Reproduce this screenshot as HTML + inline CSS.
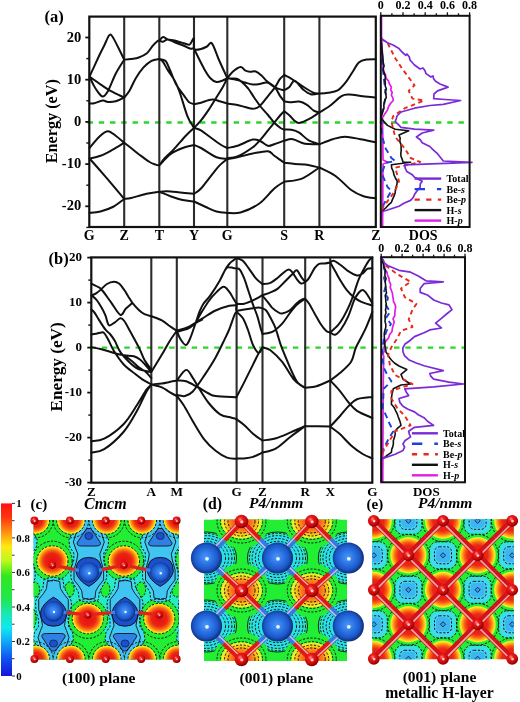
<!DOCTYPE html>
<html><head><meta charset="utf-8"><title>Band structure and ELF</title>
<style>
html,body{margin:0;padding:0;background:#fff;}
svg{display:block;font-family:"Liberation Serif","Times New Roman",serif;}
</style></head>
<body>
<svg width="520" height="702" viewBox="0 0 520 702">
<rect width="520" height="702" fill="#fff"/>

<defs>
 <radialGradient id="blobc" cx="50%" cy="50%" r="50%">
  <stop offset="0" stop-color="#e41010"/>
  <stop offset="0.5" stop-color="#ea2414"/>
  <stop offset="0.68" stop-color="#f65a12"/>
  <stop offset="0.82" stop-color="#ffa014"/>
  <stop offset="0.93" stop-color="#ffe01c"/>
  <stop offset="1" stop-color="#e0f024"/>
 </radialGradient>
 <radialGradient id="blobd" cx="50%" cy="50%" r="50%">
  <stop offset="0" stop-color="#f02818"/>
  <stop offset="0.3" stop-color="#f45418"/>
  <stop offset="0.58" stop-color="#fc8c1c"/>
  <stop offset="0.76" stop-color="#fcc81e"/>
  <stop offset="0.9" stop-color="#f0f028"/>
  <stop offset="1" stop-color="#b0f030"/>
 </radialGradient>
 <radialGradient id="blobe" cx="50%" cy="50%" r="50%">
  <stop offset="0" stop-color="#e41414"/>
  <stop offset="0.55" stop-color="#ec2616"/>
  <stop offset="0.72" stop-color="#f86014"/>
  <stop offset="0.85" stop-color="#ffae1a"/>
  <stop offset="0.95" stop-color="#f8ec20"/>
  <stop offset="1" stop-color="#c0f030"/>
 </radialGradient>
 <radialGradient id="hatom" cx="40%" cy="35%" r="60%">
  <stop offset="0" stop-color="#ff9090"/>
  <stop offset="0.3" stop-color="#ee1c1c"/>
  <stop offset="0.8" stop-color="#c40808"/>
  <stop offset="1" stop-color="#900000"/>
 </radialGradient>
 <radialGradient id="beatom" cx="48%" cy="48%" r="52%">
  <stop offset="0" stop-color="#4a98f8"/>
  <stop offset="0.45" stop-color="#2a72e4"/>
  <stop offset="0.75" stop-color="#1c58c8"/>
  <stop offset="0.9" stop-color="#143e98"/>
  <stop offset="1" stop-color="#0e2a74"/>
 </radialGradient>
 <linearGradient id="cbar" x1="0" y1="0" x2="0" y2="1">
  <stop offset="0" stop-color="#ff1010"/>
  <stop offset="0.08" stop-color="#ff3410"/>
  <stop offset="0.17" stop-color="#ff9410"/>
  <stop offset="0.25" stop-color="#ffea10"/>
  <stop offset="0.33" stop-color="#c0f81a"/>
  <stop offset="0.42" stop-color="#30e81e"/>
  <stop offset="0.55" stop-color="#1ee84a"/>
  <stop offset="0.64" stop-color="#18e8b4"/>
  <stop offset="0.72" stop-color="#10e8f0"/>
  <stop offset="0.80" stop-color="#10a8f8"/>
  <stop offset="0.90" stop-color="#1050f0"/>
  <stop offset="1" stop-color="#1414d8"/>
 </linearGradient>
 <clipPath id="clipc"><rect x="33.5" y="520" width="145.5" height="139.5"/></clipPath>
 <clipPath id="clipd"><rect x="204" y="519.5" width="143" height="141.5"/></clipPath>
 <clipPath id="clipe"><rect x="372.3" y="519.3" width="141.5" height="140"/></clipPath>
</defs>

<rect x="1" y="503.4" width="11" height="172.6" fill="url(#cbar)"/>
<line x1="12" y1="503.4" x2="15" y2="503.4" stroke="#333" stroke-width="1"/>
<line x1="12" y1="520.7" x2="14.5" y2="520.7" stroke="#333" stroke-width="1"/>
<line x1="12" y1="537.9" x2="15" y2="537.9" stroke="#333" stroke-width="1"/>
<line x1="12" y1="555.2" x2="14.5" y2="555.2" stroke="#333" stroke-width="1"/>
<line x1="12" y1="572.4" x2="15" y2="572.4" stroke="#333" stroke-width="1"/>
<line x1="12" y1="589.7" x2="14.5" y2="589.7" stroke="#333" stroke-width="1"/>
<line x1="12" y1="607.0" x2="15" y2="607.0" stroke="#333" stroke-width="1"/>
<line x1="12" y1="624.2" x2="14.5" y2="624.2" stroke="#333" stroke-width="1"/>
<line x1="12" y1="641.5" x2="15" y2="641.5" stroke="#333" stroke-width="1"/>
<line x1="12" y1="658.7" x2="14.5" y2="658.7" stroke="#333" stroke-width="1"/>
<line x1="12" y1="676.0" x2="15" y2="676.0" stroke="#333" stroke-width="1"/>
<text x="16.3" y="507.2" font-size="10.8" text-anchor="start" font-style="normal" font-weight="bold" fill="#000">1</text>
<text x="16.3" y="541.7" font-size="10.8" text-anchor="start" font-style="normal" font-weight="bold" fill="#000">0.8</text>
<text x="16.3" y="576.2" font-size="10.8" text-anchor="start" font-style="normal" font-weight="bold" fill="#000">0.6</text>
<text x="16.3" y="610.8" font-size="10.8" text-anchor="start" font-style="normal" font-weight="bold" fill="#000">0.4</text>
<text x="16.3" y="645.3" font-size="10.8" text-anchor="start" font-style="normal" font-weight="bold" fill="#000">0.2</text>
<text x="16.3" y="679.8" font-size="10.8" text-anchor="start" font-style="normal" font-weight="bold" fill="#000">0</text>
<g clip-path="url(#clipc)">
<rect x="33.5" y="520" width="145.5" height="139.5" fill="#24ecc4"/>
<rect x="33.5" y="520" width="145.5" height="28" fill="#22ee34"/>
<rect x="33.5" y="632" width="145.5" height="28" fill="#22ee34"/>
<circle cx="-19.1" cy="561" r="19.8" fill="#22ee34"/>
<circle cx="52.4" cy="561" r="19.8" fill="#22ee34"/>
<circle cx="123.9" cy="561" r="19.8" fill="#22ee34"/>
<circle cx="195.4" cy="561" r="19.8" fill="#22ee34"/>
<circle cx="16.3" cy="618.6" r="19.8" fill="#22ee34"/>
<circle cx="87.8" cy="618.6" r="19.8" fill="#22ee34"/>
<circle cx="159.3" cy="618.6" r="19.8" fill="#22ee34"/>
<ellipse cx="35" cy="589.5" rx="4.6" ry="7.5" fill="#22ee34"/>
<ellipse cx="35" cy="589.5" rx="4.6" ry="7.5" fill="none" stroke="#111" stroke-width="1" stroke-dasharray="2.2,1.6"/>
<ellipse cx="69.5" cy="589.5" rx="4.6" ry="7.5" fill="#22ee34"/>
<ellipse cx="69.5" cy="589.5" rx="4.6" ry="7.5" fill="none" stroke="#111" stroke-width="1" stroke-dasharray="2.2,1.6"/>
<ellipse cx="105.3" cy="589.5" rx="4.6" ry="7.5" fill="#22ee34"/>
<ellipse cx="105.3" cy="589.5" rx="4.6" ry="7.5" fill="none" stroke="#111" stroke-width="1" stroke-dasharray="2.2,1.6"/>
<ellipse cx="141" cy="589.5" rx="4.6" ry="7.5" fill="#22ee34"/>
<ellipse cx="141" cy="589.5" rx="4.6" ry="7.5" fill="none" stroke="#111" stroke-width="1" stroke-dasharray="2.2,1.6"/>
<ellipse cx="176.5" cy="589.5" rx="4.6" ry="7.5" fill="#22ee34"/>
<ellipse cx="176.5" cy="589.5" rx="4.6" ry="7.5" fill="none" stroke="#111" stroke-width="1" stroke-dasharray="2.2,1.6"/>
<path d="M26.3,518.0 L29.3,525.0 L33.3,532.0 L37.3,540.0 L36.3,547.0 L32.3,553.0 L32.3,560.0 L34.8,568.0 L35.3,578.0 L31.3,586.0 L27.8,592.0 L26.8,600.0 Q17.3,604.0 7.8,600.0 L6.8,592.0 L3.3,586.0 L-0.7,578.0 L-0.2,568.0 L2.3,560.0 L2.3,553.0 L-1.7,547.0 L-2.7,540.0 L1.3,532.0 L5.3,525.0 L8.3,518.0 Z" fill="#3ed8f2"/>
<path d="M26.3,518.0 L29.3,525.0 L33.3,532.0 L37.3,540.0 L36.3,547.0 L32.3,553.0 L32.3,560.0 L34.8,568.0 L35.3,578.0 L31.3,586.0 L27.8,592.0 L26.8,600.0 Q17.3,604.0 7.8,600.0 L6.8,592.0 L3.3,586.0 L-0.7,578.0 L-0.2,568.0 L2.3,560.0 L2.3,553.0 L-1.7,547.0 L-2.7,540.0 L1.3,532.0 L5.3,525.0 L8.3,518.0 Z" fill="none" stroke="#111" stroke-width="1" stroke-dasharray="2.2,1.6"/>
<path d="M23.3,518.0 L26.3,526.0 L30.3,534.0 L32.8,542.0 L30.3,549.0 L28.3,554.0 L29.3,560.0 L32.1,570.0 L32.1,580.0 L27.3,586.0 L24.3,591.0 L23.5,598.0 Q17.3,601.0 11.1,598.0 L10.3,591.0 L7.3,586.0 L2.5,580.0 L2.5,570.0 L5.3,560.0 L6.3,554.0 L4.3,549.0 L1.8,542.0 L4.3,534.0 L8.3,526.0 L11.3,518.0 Z" fill="#40c4f2"/>
<path d="M23.3,518.0 L26.3,526.0 L30.3,534.0 L32.8,542.0 L30.3,549.0 L28.3,554.0 L29.3,560.0 L32.1,570.0 L32.1,580.0 L27.3,586.0 L24.3,591.0 L23.5,598.0 Q17.3,601.0 11.1,598.0 L10.3,591.0 L7.3,586.0 L2.5,580.0 L2.5,570.0 L5.3,560.0 L6.3,554.0 L4.3,549.0 L1.8,542.0 L4.3,534.0 L8.3,526.0 L11.3,518.0 Z" fill="none" stroke="#111" stroke-width="0.9"/>
<path d="M97.8,518.0 L100.8,525.0 L104.8,532.0 L108.8,540.0 L107.8,547.0 L103.8,553.0 L103.8,560.0 L106.3,568.0 L106.8,578.0 L102.8,586.0 L99.3,592.0 L98.3,600.0 Q88.8,604.0 79.3,600.0 L78.3,592.0 L74.8,586.0 L70.8,578.0 L71.3,568.0 L73.8,560.0 L73.8,553.0 L69.8,547.0 L68.8,540.0 L72.8,532.0 L76.8,525.0 L79.8,518.0 Z" fill="#3ed8f2"/>
<path d="M97.8,518.0 L100.8,525.0 L104.8,532.0 L108.8,540.0 L107.8,547.0 L103.8,553.0 L103.8,560.0 L106.3,568.0 L106.8,578.0 L102.8,586.0 L99.3,592.0 L98.3,600.0 Q88.8,604.0 79.3,600.0 L78.3,592.0 L74.8,586.0 L70.8,578.0 L71.3,568.0 L73.8,560.0 L73.8,553.0 L69.8,547.0 L68.8,540.0 L72.8,532.0 L76.8,525.0 L79.8,518.0 Z" fill="none" stroke="#111" stroke-width="1" stroke-dasharray="2.2,1.6"/>
<path d="M94.8,518.0 L97.8,526.0 L101.8,534.0 L104.3,542.0 L101.8,549.0 L99.8,554.0 L100.8,560.0 L103.6,570.0 L103.6,580.0 L98.8,586.0 L95.8,591.0 L95.0,598.0 Q88.8,601.0 82.6,598.0 L81.8,591.0 L78.8,586.0 L74.0,580.0 L74.0,570.0 L76.8,560.0 L77.8,554.0 L75.8,549.0 L73.3,542.0 L75.8,534.0 L79.8,526.0 L82.8,518.0 Z" fill="#40c4f2"/>
<path d="M94.8,518.0 L97.8,526.0 L101.8,534.0 L104.3,542.0 L101.8,549.0 L99.8,554.0 L100.8,560.0 L103.6,570.0 L103.6,580.0 L98.8,586.0 L95.8,591.0 L95.0,598.0 Q88.8,601.0 82.6,598.0 L81.8,591.0 L78.8,586.0 L74.0,580.0 L74.0,570.0 L76.8,560.0 L77.8,554.0 L75.8,549.0 L73.3,542.0 L75.8,534.0 L79.8,526.0 L82.8,518.0 Z" fill="none" stroke="#111" stroke-width="0.9"/>
<path d="M169.3,518.0 L172.3,525.0 L176.3,532.0 L180.3,540.0 L179.3,547.0 L175.3,553.0 L175.3,560.0 L177.8,568.0 L178.3,578.0 L174.3,586.0 L170.8,592.0 L169.8,600.0 Q160.3,604.0 150.8,600.0 L149.8,592.0 L146.3,586.0 L142.3,578.0 L142.8,568.0 L145.3,560.0 L145.3,553.0 L141.3,547.0 L140.3,540.0 L144.3,532.0 L148.3,525.0 L151.3,518.0 Z" fill="#3ed8f2"/>
<path d="M169.3,518.0 L172.3,525.0 L176.3,532.0 L180.3,540.0 L179.3,547.0 L175.3,553.0 L175.3,560.0 L177.8,568.0 L178.3,578.0 L174.3,586.0 L170.8,592.0 L169.8,600.0 Q160.3,604.0 150.8,600.0 L149.8,592.0 L146.3,586.0 L142.3,578.0 L142.8,568.0 L145.3,560.0 L145.3,553.0 L141.3,547.0 L140.3,540.0 L144.3,532.0 L148.3,525.0 L151.3,518.0 Z" fill="none" stroke="#111" stroke-width="1" stroke-dasharray="2.2,1.6"/>
<path d="M166.3,518.0 L169.3,526.0 L173.3,534.0 L175.8,542.0 L173.3,549.0 L171.3,554.0 L172.3,560.0 L175.1,570.0 L175.1,580.0 L170.3,586.0 L167.3,591.0 L166.5,598.0 Q160.3,601.0 154.1,598.0 L153.3,591.0 L150.3,586.0 L145.5,580.0 L145.5,570.0 L148.3,560.0 L149.3,554.0 L147.3,549.0 L144.8,542.0 L147.3,534.0 L151.3,526.0 L154.3,518.0 Z" fill="#40c4f2"/>
<path d="M166.3,518.0 L169.3,526.0 L173.3,534.0 L175.8,542.0 L173.3,549.0 L171.3,554.0 L172.3,560.0 L175.1,570.0 L175.1,580.0 L170.3,586.0 L167.3,591.0 L166.5,598.0 Q160.3,601.0 154.1,598.0 L153.3,591.0 L150.3,586.0 L145.5,580.0 L145.5,570.0 L148.3,560.0 L149.3,554.0 L147.3,549.0 L144.8,542.0 L147.3,534.0 L151.3,526.0 L154.3,518.0 Z" fill="none" stroke="#111" stroke-width="0.9"/>
<path d="M62.5,661.5 L65.5,654.5 L69.5,647.5 L73.5,639.5 L72.5,632.5 L68.5,626.5 L68.5,619.5 L71.0,611.5 L71.5,601.5 L67.5,593.5 L64.0,587.5 L63.0,579.5 Q53.5,575.5 44.0,579.5 L43.0,587.5 L39.5,593.5 L35.5,601.5 L36.0,611.5 L38.5,619.5 L38.5,626.5 L34.5,632.5 L33.5,639.5 L37.5,647.5 L41.5,654.5 L44.5,661.5 Z" fill="#3ed8f2"/>
<path d="M62.5,661.5 L65.5,654.5 L69.5,647.5 L73.5,639.5 L72.5,632.5 L68.5,626.5 L68.5,619.5 L71.0,611.5 L71.5,601.5 L67.5,593.5 L64.0,587.5 L63.0,579.5 Q53.5,575.5 44.0,579.5 L43.0,587.5 L39.5,593.5 L35.5,601.5 L36.0,611.5 L38.5,619.5 L38.5,626.5 L34.5,632.5 L33.5,639.5 L37.5,647.5 L41.5,654.5 L44.5,661.5 Z" fill="none" stroke="#111" stroke-width="1" stroke-dasharray="2.2,1.6"/>
<path d="M59.5,661.5 L62.5,653.5 L66.5,645.5 L69.0,637.5 L66.5,630.5 L64.5,625.5 L65.5,619.5 L68.3,609.5 L68.3,599.5 L63.5,593.5 L60.5,588.5 L59.7,581.5 Q53.5,578.5 47.3,581.5 L46.5,588.5 L43.5,593.5 L38.7,599.5 L38.7,609.5 L41.5,619.5 L42.5,625.5 L40.5,630.5 L38.0,637.5 L40.5,645.5 L44.5,653.5 L47.5,661.5 Z" fill="#40c4f2"/>
<path d="M59.5,661.5 L62.5,653.5 L66.5,645.5 L69.0,637.5 L66.5,630.5 L64.5,625.5 L65.5,619.5 L68.3,609.5 L68.3,599.5 L63.5,593.5 L60.5,588.5 L59.7,581.5 Q53.5,578.5 47.3,581.5 L46.5,588.5 L43.5,593.5 L38.7,599.5 L38.7,609.5 L41.5,619.5 L42.5,625.5 L40.5,630.5 L38.0,637.5 L40.5,645.5 L44.5,653.5 L47.5,661.5 Z" fill="none" stroke="#111" stroke-width="0.9"/>
<path d="M134.0,661.5 L137.0,654.5 L141.0,647.5 L145.0,639.5 L144.0,632.5 L140.0,626.5 L140.0,619.5 L142.5,611.5 L143.0,601.5 L139.0,593.5 L135.5,587.5 L134.5,579.5 Q125.0,575.5 115.5,579.5 L114.5,587.5 L111.0,593.5 L107.0,601.5 L107.5,611.5 L110.0,619.5 L110.0,626.5 L106.0,632.5 L105.0,639.5 L109.0,647.5 L113.0,654.5 L116.0,661.5 Z" fill="#3ed8f2"/>
<path d="M134.0,661.5 L137.0,654.5 L141.0,647.5 L145.0,639.5 L144.0,632.5 L140.0,626.5 L140.0,619.5 L142.5,611.5 L143.0,601.5 L139.0,593.5 L135.5,587.5 L134.5,579.5 Q125.0,575.5 115.5,579.5 L114.5,587.5 L111.0,593.5 L107.0,601.5 L107.5,611.5 L110.0,619.5 L110.0,626.5 L106.0,632.5 L105.0,639.5 L109.0,647.5 L113.0,654.5 L116.0,661.5 Z" fill="none" stroke="#111" stroke-width="1" stroke-dasharray="2.2,1.6"/>
<path d="M131.0,661.5 L134.0,653.5 L138.0,645.5 L140.5,637.5 L138.0,630.5 L136.0,625.5 L137.0,619.5 L139.8,609.5 L139.8,599.5 L135.0,593.5 L132.0,588.5 L131.2,581.5 Q125.0,578.5 118.8,581.5 L118.0,588.5 L115.0,593.5 L110.2,599.5 L110.2,609.5 L113.0,619.5 L114.0,625.5 L112.0,630.5 L109.5,637.5 L112.0,645.5 L116.0,653.5 L119.0,661.5 Z" fill="#40c4f2"/>
<path d="M131.0,661.5 L134.0,653.5 L138.0,645.5 L140.5,637.5 L138.0,630.5 L136.0,625.5 L137.0,619.5 L139.8,609.5 L139.8,599.5 L135.0,593.5 L132.0,588.5 L131.2,581.5 Q125.0,578.5 118.8,581.5 L118.0,588.5 L115.0,593.5 L110.2,599.5 L110.2,609.5 L113.0,619.5 L114.0,625.5 L112.0,630.5 L109.5,637.5 L112.0,645.5 L116.0,653.5 L119.0,661.5 Z" fill="none" stroke="#111" stroke-width="0.9"/>
<path d="M205.5,661.5 L208.5,654.5 L212.5,647.5 L216.5,639.5 L215.5,632.5 L211.5,626.5 L211.5,619.5 L214.0,611.5 L214.5,601.5 L210.5,593.5 L207.0,587.5 L206.0,579.5 Q196.5,575.5 187.0,579.5 L186.0,587.5 L182.5,593.5 L178.5,601.5 L179.0,611.5 L181.5,619.5 L181.5,626.5 L177.5,632.5 L176.5,639.5 L180.5,647.5 L184.5,654.5 L187.5,661.5 Z" fill="#3ed8f2"/>
<path d="M205.5,661.5 L208.5,654.5 L212.5,647.5 L216.5,639.5 L215.5,632.5 L211.5,626.5 L211.5,619.5 L214.0,611.5 L214.5,601.5 L210.5,593.5 L207.0,587.5 L206.0,579.5 Q196.5,575.5 187.0,579.5 L186.0,587.5 L182.5,593.5 L178.5,601.5 L179.0,611.5 L181.5,619.5 L181.5,626.5 L177.5,632.5 L176.5,639.5 L180.5,647.5 L184.5,654.5 L187.5,661.5 Z" fill="none" stroke="#111" stroke-width="1" stroke-dasharray="2.2,1.6"/>
<path d="M202.5,661.5 L205.5,653.5 L209.5,645.5 L212.0,637.5 L209.5,630.5 L207.5,625.5 L208.5,619.5 L211.3,609.5 L211.3,599.5 L206.5,593.5 L203.5,588.5 L202.7,581.5 Q196.5,578.5 190.3,581.5 L189.5,588.5 L186.5,593.5 L181.7,599.5 L181.7,609.5 L184.5,619.5 L185.5,625.5 L183.5,630.5 L181.0,637.5 L183.5,645.5 L187.5,653.5 L190.5,661.5 Z" fill="#40c4f2"/>
<path d="M202.5,661.5 L205.5,653.5 L209.5,645.5 L212.0,637.5 L209.5,630.5 L207.5,625.5 L208.5,619.5 L211.3,609.5 L211.3,599.5 L206.5,593.5 L203.5,588.5 L202.7,581.5 Q196.5,578.5 190.3,581.5 L189.5,588.5 L186.5,593.5 L181.7,599.5 L181.7,609.5 L184.5,619.5 L185.5,625.5 L183.5,630.5 L181.0,637.5 L183.5,645.5 L187.5,653.5 L190.5,661.5 Z" fill="none" stroke="#111" stroke-width="0.9"/>
<path d="M-9.0,661.5 L-6.0,654.5 L-2.0,647.5 L2.0,639.5 L1.0,632.5 L-3.0,626.5 L-3.0,619.5 L-0.5,611.5 L0.0,601.5 L-4.0,593.5 L-7.5,587.5 L-8.5,579.5 Q-18.0,575.5 -27.5,579.5 L-28.5,587.5 L-32.0,593.5 L-36.0,601.5 L-35.5,611.5 L-33.0,619.5 L-33.0,626.5 L-37.0,632.5 L-38.0,639.5 L-34.0,647.5 L-30.0,654.5 L-27.0,661.5 Z" fill="#3ed8f2"/>
<path d="M-9.0,661.5 L-6.0,654.5 L-2.0,647.5 L2.0,639.5 L1.0,632.5 L-3.0,626.5 L-3.0,619.5 L-0.5,611.5 L0.0,601.5 L-4.0,593.5 L-7.5,587.5 L-8.5,579.5 Q-18.0,575.5 -27.5,579.5 L-28.5,587.5 L-32.0,593.5 L-36.0,601.5 L-35.5,611.5 L-33.0,619.5 L-33.0,626.5 L-37.0,632.5 L-38.0,639.5 L-34.0,647.5 L-30.0,654.5 L-27.0,661.5 Z" fill="none" stroke="#111" stroke-width="1" stroke-dasharray="2.2,1.6"/>
<path d="M-12.0,661.5 L-9.0,653.5 L-5.0,645.5 L-2.5,637.5 L-5.0,630.5 L-7.0,625.5 L-6.0,619.5 L-3.2,609.5 L-3.2,599.5 L-8.0,593.5 L-11.0,588.5 L-11.8,581.5 Q-18.0,578.5 -24.2,581.5 L-25.0,588.5 L-28.0,593.5 L-32.8,599.5 L-32.8,609.5 L-30.0,619.5 L-29.0,625.5 L-31.0,630.5 L-33.5,637.5 L-31.0,645.5 L-27.0,653.5 L-24.0,661.5 Z" fill="#40c4f2"/>
<path d="M-12.0,661.5 L-9.0,653.5 L-5.0,645.5 L-2.5,637.5 L-5.0,630.5 L-7.0,625.5 L-6.0,619.5 L-3.2,609.5 L-3.2,599.5 L-8.0,593.5 L-11.0,588.5 L-11.8,581.5 Q-18.0,578.5 -24.2,581.5 L-25.0,588.5 L-28.0,593.5 L-32.8,599.5 L-32.8,609.5 L-30.0,619.5 L-29.0,625.5 L-31.0,630.5 L-33.5,637.5 L-31.0,645.5 L-27.0,653.5 L-24.0,661.5 Z" fill="none" stroke="#111" stroke-width="0.9"/>
<path d="M15.3,528.5 L19.3,528.5 Q24.3,535.5 28.8,542.5 Q29.8,546.0 24.3,546.0 L10.3,546.0 Q4.8,546.0 5.8,542.5 Q10.3,535.5 15.3,528.5 Z" fill="#3080e4" stroke="#112" stroke-width="0.9"/>
<ellipse cx="17.3" cy="536.0" rx="4" ry="3.6" fill="#1b4fcc" stroke="#112" stroke-width="0.6"/>
<path d="M86.8,528.5 L90.8,528.5 Q95.8,535.5 100.3,542.5 Q101.3,546.0 95.8,546.0 L81.8,546.0 Q76.3,546.0 77.3,542.5 Q81.8,535.5 86.8,528.5 Z" fill="#3080e4" stroke="#112" stroke-width="0.9"/>
<ellipse cx="88.8" cy="536.0" rx="4" ry="3.6" fill="#1b4fcc" stroke="#112" stroke-width="0.6"/>
<path d="M158.3,528.5 L162.3,528.5 Q167.3,535.5 171.8,542.5 Q172.8,546.0 167.3,546.0 L153.3,546.0 Q147.8,546.0 148.8,542.5 Q153.3,535.5 158.3,528.5 Z" fill="#3080e4" stroke="#112" stroke-width="0.9"/>
<ellipse cx="160.3" cy="536.0" rx="4" ry="3.6" fill="#1b4fcc" stroke="#112" stroke-width="0.6"/>
<path d="M51.5,651.0 L55.5,651.0 Q60.5,644.0 65.0,637.0 Q66.0,633.5 60.5,633.5 L46.5,633.5 Q41.0,633.5 42.0,637.0 Q46.5,644.0 51.5,651.0 Z" fill="#3080e4" stroke="#112" stroke-width="0.9"/>
<ellipse cx="53.5" cy="643.5" rx="4" ry="3.6" fill="#1b4fcc" stroke="#112" stroke-width="0.6"/>
<path d="M123.0,651.0 L127.0,651.0 Q132.0,644.0 136.5,637.0 Q137.5,633.5 132.0,633.5 L118.0,633.5 Q112.5,633.5 113.5,637.0 Q118.0,644.0 123.0,651.0 Z" fill="#3080e4" stroke="#112" stroke-width="0.9"/>
<ellipse cx="125.0" cy="643.5" rx="4" ry="3.6" fill="#1b4fcc" stroke="#112" stroke-width="0.6"/>
<path d="M194.5,651.0 L198.5,651.0 Q203.5,644.0 208.0,637.0 Q209.0,633.5 203.5,633.5 L189.5,633.5 Q184.0,633.5 185.0,637.0 Q189.5,644.0 194.5,651.0 Z" fill="#3080e4" stroke="#112" stroke-width="0.9"/>
<ellipse cx="196.5" cy="643.5" rx="4" ry="3.6" fill="#1b4fcc" stroke="#112" stroke-width="0.6"/>
<path d="M-20.0,651.0 L-16.0,651.0 Q-11.0,644.0 -6.5,637.0 Q-5.5,633.5 -11.0,633.5 L-25.0,633.5 Q-30.5,633.5 -29.5,637.0 Q-25.0,644.0 -20.0,651.0 Z" fill="#3080e4" stroke="#112" stroke-width="0.9"/>
<ellipse cx="-18.0" cy="643.5" rx="4" ry="3.6" fill="#1b4fcc" stroke="#112" stroke-width="0.6"/>
<path d="M4.3,571.4 Q4.3,557.4 17.3,557.4 Q30.3,557.4 30.3,571.4 Q28.3,580.4 17.3,586.4 Q6.3,580.4 4.3,571.4 Z" fill="#1b4fcc" stroke="#112" stroke-width="1"/>
<path d="M75.8,571.4 Q75.8,557.4 88.8,557.4 Q101.8,557.4 101.8,571.4 Q99.8,580.4 88.8,586.4 Q77.8,580.4 75.8,571.4 Z" fill="#1b4fcc" stroke="#112" stroke-width="1"/>
<path d="M147.3,571.4 Q147.3,557.4 160.3,557.4 Q173.3,557.4 173.3,571.4 Q171.3,580.4 160.3,586.4 Q149.3,580.4 147.3,571.4 Z" fill="#1b4fcc" stroke="#112" stroke-width="1"/>
<path d="M40.5,612.2 Q40.5,626.2 53.5,626.2 Q66.5,626.2 66.5,612.2 Q64.5,603.2 53.5,597.2 Q42.5,603.2 40.5,612.2 Z" fill="#1b4fcc" stroke="#112" stroke-width="1"/>
<path d="M112.0,612.2 Q112.0,626.2 125.0,626.2 Q138.0,626.2 138.0,612.2 Q136.0,603.2 125.0,597.2 Q114.0,603.2 112.0,612.2 Z" fill="#1b4fcc" stroke="#112" stroke-width="1"/>
<path d="M183.5,612.2 Q183.5,626.2 196.5,626.2 Q209.5,626.2 209.5,612.2 Q207.5,603.2 196.5,597.2 Q185.5,603.2 183.5,612.2 Z" fill="#1b4fcc" stroke="#112" stroke-width="1"/>
<path d="M-31.0,612.2 Q-31.0,626.2 -18.0,626.2 Q-5.0,626.2 -5.0,612.2 Q-7.0,603.2 -18.0,597.2 Q-29.0,603.2 -31.0,612.2 Z" fill="#1b4fcc" stroke="#112" stroke-width="1"/>
<ellipse cx="-19.1" cy="561.0" rx="15.6" ry="15.2" fill="url(#blobc)"/>
<ellipse cx="-19.1" cy="561" rx="15.6" ry="15.2" fill="none" stroke="#111" stroke-width="1" stroke-dasharray="2.2,1.6"/>
<circle cx="-19.1" cy="561" r="19.8" fill="none" stroke="#111" stroke-width="1" stroke-dasharray="2.2,1.6"/>
<ellipse cx="52.4" cy="561.0" rx="15.6" ry="15.2" fill="url(#blobc)"/>
<ellipse cx="52.4" cy="561" rx="15.6" ry="15.2" fill="none" stroke="#111" stroke-width="1" stroke-dasharray="2.2,1.6"/>
<circle cx="52.4" cy="561" r="19.8" fill="none" stroke="#111" stroke-width="1" stroke-dasharray="2.2,1.6"/>
<ellipse cx="123.9" cy="561.0" rx="15.6" ry="15.2" fill="url(#blobc)"/>
<ellipse cx="123.9" cy="561" rx="15.6" ry="15.2" fill="none" stroke="#111" stroke-width="1" stroke-dasharray="2.2,1.6"/>
<circle cx="123.9" cy="561" r="19.8" fill="none" stroke="#111" stroke-width="1" stroke-dasharray="2.2,1.6"/>
<ellipse cx="195.4" cy="561.0" rx="15.6" ry="15.2" fill="url(#blobc)"/>
<ellipse cx="195.4" cy="561" rx="15.6" ry="15.2" fill="none" stroke="#111" stroke-width="1" stroke-dasharray="2.2,1.6"/>
<circle cx="195.4" cy="561" r="19.8" fill="none" stroke="#111" stroke-width="1" stroke-dasharray="2.2,1.6"/>
<ellipse cx="16.3" cy="618.6" rx="15.6" ry="15.2" fill="url(#blobc)"/>
<ellipse cx="16.3" cy="618.6" rx="15.6" ry="15.2" fill="none" stroke="#111" stroke-width="1" stroke-dasharray="2.2,1.6"/>
<circle cx="16.3" cy="618.6" r="19.8" fill="none" stroke="#111" stroke-width="1" stroke-dasharray="2.2,1.6"/>
<ellipse cx="87.8" cy="618.6" rx="15.6" ry="15.2" fill="url(#blobc)"/>
<ellipse cx="87.8" cy="618.6" rx="15.6" ry="15.2" fill="none" stroke="#111" stroke-width="1" stroke-dasharray="2.2,1.6"/>
<circle cx="87.8" cy="618.6" r="19.8" fill="none" stroke="#111" stroke-width="1" stroke-dasharray="2.2,1.6"/>
<ellipse cx="159.3" cy="618.6" rx="15.6" ry="15.2" fill="url(#blobc)"/>
<ellipse cx="159.3" cy="618.6" rx="15.6" ry="15.2" fill="none" stroke="#111" stroke-width="1" stroke-dasharray="2.2,1.6"/>
<circle cx="159.3" cy="618.6" r="19.8" fill="none" stroke="#111" stroke-width="1" stroke-dasharray="2.2,1.6"/>
<ellipse cx="35.4" cy="520.0" rx="14" ry="14" fill="url(#blobc)"/>
<circle cx="35.4" cy="520" r="14.3" fill="none" stroke="#111" stroke-width="1" stroke-dasharray="2.2,1.6"/>
<circle cx="35.4" cy="520" r="17.8" fill="none" stroke="#111" stroke-width="1" stroke-dasharray="2.2,1.6"/>
<ellipse cx="35.4" cy="659.5" rx="14" ry="14" fill="url(#blobc)"/>
<circle cx="35.4" cy="659.5" r="14.3" fill="none" stroke="#111" stroke-width="1" stroke-dasharray="2.2,1.6"/>
<circle cx="35.4" cy="659.5" r="17.8" fill="none" stroke="#111" stroke-width="1" stroke-dasharray="2.2,1.6"/>
<ellipse cx="70.9" cy="520.0" rx="14" ry="14" fill="url(#blobc)"/>
<circle cx="70.9" cy="520" r="14.3" fill="none" stroke="#111" stroke-width="1" stroke-dasharray="2.2,1.6"/>
<circle cx="70.9" cy="520" r="17.8" fill="none" stroke="#111" stroke-width="1" stroke-dasharray="2.2,1.6"/>
<ellipse cx="70.9" cy="659.5" rx="14" ry="14" fill="url(#blobc)"/>
<circle cx="70.9" cy="659.5" r="14.3" fill="none" stroke="#111" stroke-width="1" stroke-dasharray="2.2,1.6"/>
<circle cx="70.9" cy="659.5" r="17.8" fill="none" stroke="#111" stroke-width="1" stroke-dasharray="2.2,1.6"/>
<ellipse cx="106.7" cy="520.0" rx="14" ry="14" fill="url(#blobc)"/>
<circle cx="106.7" cy="520" r="14.3" fill="none" stroke="#111" stroke-width="1" stroke-dasharray="2.2,1.6"/>
<circle cx="106.7" cy="520" r="17.8" fill="none" stroke="#111" stroke-width="1" stroke-dasharray="2.2,1.6"/>
<ellipse cx="106.7" cy="659.5" rx="14" ry="14" fill="url(#blobc)"/>
<circle cx="106.7" cy="659.5" r="14.3" fill="none" stroke="#111" stroke-width="1" stroke-dasharray="2.2,1.6"/>
<circle cx="106.7" cy="659.5" r="17.8" fill="none" stroke="#111" stroke-width="1" stroke-dasharray="2.2,1.6"/>
<ellipse cx="142.2" cy="520.0" rx="14" ry="14" fill="url(#blobc)"/>
<circle cx="142.2" cy="520" r="14.3" fill="none" stroke="#111" stroke-width="1" stroke-dasharray="2.2,1.6"/>
<circle cx="142.2" cy="520" r="17.8" fill="none" stroke="#111" stroke-width="1" stroke-dasharray="2.2,1.6"/>
<ellipse cx="142.2" cy="659.5" rx="14" ry="14" fill="url(#blobc)"/>
<circle cx="142.2" cy="659.5" r="14.3" fill="none" stroke="#111" stroke-width="1" stroke-dasharray="2.2,1.6"/>
<circle cx="142.2" cy="659.5" r="17.8" fill="none" stroke="#111" stroke-width="1" stroke-dasharray="2.2,1.6"/>
<ellipse cx="177.6" cy="520.0" rx="14" ry="14" fill="url(#blobc)"/>
<circle cx="177.6" cy="520" r="14.3" fill="none" stroke="#111" stroke-width="1" stroke-dasharray="2.2,1.6"/>
<circle cx="177.6" cy="520" r="17.8" fill="none" stroke="#111" stroke-width="1" stroke-dasharray="2.2,1.6"/>
<ellipse cx="177.6" cy="659.5" rx="14" ry="14" fill="url(#blobc)"/>
<circle cx="177.6" cy="659.5" r="14.3" fill="none" stroke="#111" stroke-width="1" stroke-dasharray="2.2,1.6"/>
<circle cx="177.6" cy="659.5" r="17.8" fill="none" stroke="#111" stroke-width="1" stroke-dasharray="2.2,1.6"/>
</g>
<line x1="52.4" y1="565.0" x2="75.0" y2="569.6" stroke="#e42020" stroke-width="3.3"/>
<line x1="75.0" y1="569.6" x2="88.8" y2="572.4" stroke="#3a86e8" stroke-width="3.3"/>
<line x1="123.9" y1="565.0" x2="146.5" y2="569.6" stroke="#e42020" stroke-width="3.3"/>
<line x1="146.5" y1="569.6" x2="160.3" y2="572.4" stroke="#3a86e8" stroke-width="3.3"/>
<line x1="87.7" y1="614.8" x2="66.5" y2="612.6" stroke="#e42020" stroke-width="3.3"/>
<line x1="66.5" y1="612.6" x2="53.5" y2="611.2" stroke="#3a86e8" stroke-width="3.3"/>
<line x1="159.2" y1="614.8" x2="138.0" y2="612.6" stroke="#e42020" stroke-width="3.3"/>
<line x1="138.0" y1="612.6" x2="125.0" y2="611.2" stroke="#3a86e8" stroke-width="3.3"/>
<line x1="88.8" y1="572.4" x2="102.1" y2="569.6" stroke="#3a86e8" stroke-width="3.3"/>
<line x1="102.1" y1="569.6" x2="123.9" y2="565.0" stroke="#e42020" stroke-width="3.3"/>
<line x1="125.0" y1="611.2" x2="110.8" y2="612.6" stroke="#3a86e8" stroke-width="3.3"/>
<line x1="110.8" y1="612.6" x2="87.7" y2="614.8" stroke="#e42020" stroke-width="3.3"/>
<circle cx="88.8" cy="572.4" r="10.2" fill="url(#beatom)"/>
<circle cx="89.3" cy="573.2" r="1.2" fill="#e8f4ff"/>
<circle cx="160.3" cy="572.4" r="10.2" fill="url(#beatom)"/>
<circle cx="160.8" cy="573.2" r="1.2" fill="#e8f4ff"/>
<circle cx="53.5" cy="611.2" r="10.2" fill="url(#beatom)"/>
<circle cx="54.0" cy="612.0" r="1.2" fill="#e8f4ff"/>
<circle cx="125.0" cy="611.2" r="10.2" fill="url(#beatom)"/>
<circle cx="125.5" cy="612.0" r="1.2" fill="#e8f4ff"/>
<circle cx="52.4" cy="565.0" r="3.8" fill="url(#hatom)"/>
<circle cx="52.7" cy="565.3" r="0.9" fill="#ffd8d8" opacity="0.9"/>
<circle cx="123.9" cy="565.0" r="3.8" fill="url(#hatom)"/>
<circle cx="124.2" cy="565.3" r="0.9" fill="#ffd8d8" opacity="0.9"/>
<circle cx="87.7" cy="614.8" r="3.8" fill="url(#hatom)"/>
<circle cx="88.0" cy="615.1" r="0.9" fill="#ffd8d8" opacity="0.9"/>
<circle cx="159.2" cy="614.8" r="3.8" fill="url(#hatom)"/>
<circle cx="159.5" cy="615.1" r="0.9" fill="#ffd8d8" opacity="0.9"/>
<circle cx="34.4" cy="520.6" r="4.0" fill="url(#hatom)"/>
<circle cx="34.7" cy="520.9" r="1.0" fill="#ffd8d8" opacity="0.9"/>
<circle cx="34.4" cy="659.0" r="4.0" fill="url(#hatom)"/>
<circle cx="34.7" cy="659.3" r="1.0" fill="#ffd8d8" opacity="0.9"/>
<circle cx="69.9" cy="520.6" r="4.0" fill="url(#hatom)"/>
<circle cx="70.2" cy="520.9" r="1.0" fill="#ffd8d8" opacity="0.9"/>
<circle cx="69.9" cy="659.0" r="4.0" fill="url(#hatom)"/>
<circle cx="70.2" cy="659.3" r="1.0" fill="#ffd8d8" opacity="0.9"/>
<circle cx="105.7" cy="520.6" r="4.0" fill="url(#hatom)"/>
<circle cx="106.0" cy="520.9" r="1.0" fill="#ffd8d8" opacity="0.9"/>
<circle cx="105.7" cy="659.0" r="4.0" fill="url(#hatom)"/>
<circle cx="106.0" cy="659.3" r="1.0" fill="#ffd8d8" opacity="0.9"/>
<circle cx="141.2" cy="520.6" r="4.0" fill="url(#hatom)"/>
<circle cx="141.5" cy="520.9" r="1.0" fill="#ffd8d8" opacity="0.9"/>
<circle cx="141.2" cy="659.0" r="4.0" fill="url(#hatom)"/>
<circle cx="141.5" cy="659.3" r="1.0" fill="#ffd8d8" opacity="0.9"/>
<circle cx="176.6" cy="520.6" r="4.0" fill="url(#hatom)"/>
<circle cx="176.9" cy="520.9" r="1.0" fill="#ffd8d8" opacity="0.9"/>
<circle cx="176.6" cy="659.0" r="4.0" fill="url(#hatom)"/>
<circle cx="176.9" cy="659.3" r="1.0" fill="#ffd8d8" opacity="0.9"/>
<g clip-path="url(#clipd)">
<rect x="204" y="519.5" width="143" height="141.5" fill="#22ee34"/>
<ellipse cx="206.5" cy="558.0" rx="30" ry="26" fill="#2cecb4"/>
<ellipse cx="206.5" cy="558.0" rx="26" ry="23" fill="#2ae0e6"/>
<ellipse cx="206.5" cy="558.0" rx="30" ry="26" fill="none" stroke="#111" stroke-width="0.9"/>
<ellipse cx="277.5" cy="558.0" rx="30" ry="26" fill="#2cecb4"/>
<ellipse cx="277.5" cy="558.0" rx="26" ry="23" fill="#2ae0e6"/>
<ellipse cx="277.5" cy="558.0" rx="30" ry="26" fill="none" stroke="#111" stroke-width="0.9"/>
<ellipse cx="348.3" cy="558.0" rx="30" ry="26" fill="#2cecb4"/>
<ellipse cx="348.3" cy="558.0" rx="26" ry="23" fill="#2ae0e6"/>
<ellipse cx="348.3" cy="558.0" rx="30" ry="26" fill="none" stroke="#111" stroke-width="0.9"/>
<ellipse cx="206.5" cy="626.0" rx="30" ry="26" fill="#2cecb4"/>
<ellipse cx="206.5" cy="626.0" rx="26" ry="23" fill="#2ae0e6"/>
<ellipse cx="206.5" cy="626.0" rx="30" ry="26" fill="none" stroke="#111" stroke-width="0.9"/>
<ellipse cx="277.5" cy="626.0" rx="30" ry="26" fill="#2cecb4"/>
<ellipse cx="277.5" cy="626.0" rx="26" ry="23" fill="#2ae0e6"/>
<ellipse cx="277.5" cy="626.0" rx="30" ry="26" fill="none" stroke="#111" stroke-width="0.9"/>
<ellipse cx="348.3" cy="626.0" rx="30" ry="26" fill="#2cecb4"/>
<ellipse cx="348.3" cy="626.0" rx="26" ry="23" fill="#2ae0e6"/>
<ellipse cx="348.3" cy="626.0" rx="30" ry="26" fill="none" stroke="#111" stroke-width="0.9"/>
<ellipse cx="206.5" cy="558.0" rx="19" ry="16.7" fill="none" stroke="#111" stroke-width="1" stroke-dasharray="2.2,1.6"/>
<ellipse cx="206.5" cy="558.0" rx="22.2" ry="19.5" fill="none" stroke="#111" stroke-width="1" stroke-dasharray="2.2,1.6"/>
<ellipse cx="206.5" cy="558.0" rx="25.4" ry="22.4" fill="none" stroke="#111" stroke-width="1" stroke-dasharray="2.2,1.6"/>
<ellipse cx="206.5" cy="558.0" rx="28" ry="24.6" fill="none" stroke="#111" stroke-width="1" stroke-dasharray="2.2,1.6"/>
<ellipse cx="277.5" cy="558.0" rx="19" ry="16.7" fill="none" stroke="#111" stroke-width="1" stroke-dasharray="2.2,1.6"/>
<ellipse cx="277.5" cy="558.0" rx="22.2" ry="19.5" fill="none" stroke="#111" stroke-width="1" stroke-dasharray="2.2,1.6"/>
<ellipse cx="277.5" cy="558.0" rx="25.4" ry="22.4" fill="none" stroke="#111" stroke-width="1" stroke-dasharray="2.2,1.6"/>
<ellipse cx="277.5" cy="558.0" rx="28" ry="24.6" fill="none" stroke="#111" stroke-width="1" stroke-dasharray="2.2,1.6"/>
<ellipse cx="348.3" cy="558.0" rx="19" ry="16.7" fill="none" stroke="#111" stroke-width="1" stroke-dasharray="2.2,1.6"/>
<ellipse cx="348.3" cy="558.0" rx="22.2" ry="19.5" fill="none" stroke="#111" stroke-width="1" stroke-dasharray="2.2,1.6"/>
<ellipse cx="348.3" cy="558.0" rx="25.4" ry="22.4" fill="none" stroke="#111" stroke-width="1" stroke-dasharray="2.2,1.6"/>
<ellipse cx="348.3" cy="558.0" rx="28" ry="24.6" fill="none" stroke="#111" stroke-width="1" stroke-dasharray="2.2,1.6"/>
<ellipse cx="206.5" cy="626.0" rx="19" ry="16.7" fill="none" stroke="#111" stroke-width="1" stroke-dasharray="2.2,1.6"/>
<ellipse cx="206.5" cy="626.0" rx="22.2" ry="19.5" fill="none" stroke="#111" stroke-width="1" stroke-dasharray="2.2,1.6"/>
<ellipse cx="206.5" cy="626.0" rx="25.4" ry="22.4" fill="none" stroke="#111" stroke-width="1" stroke-dasharray="2.2,1.6"/>
<ellipse cx="206.5" cy="626.0" rx="28" ry="24.6" fill="none" stroke="#111" stroke-width="1" stroke-dasharray="2.2,1.6"/>
<ellipse cx="277.5" cy="626.0" rx="19" ry="16.7" fill="none" stroke="#111" stroke-width="1" stroke-dasharray="2.2,1.6"/>
<ellipse cx="277.5" cy="626.0" rx="22.2" ry="19.5" fill="none" stroke="#111" stroke-width="1" stroke-dasharray="2.2,1.6"/>
<ellipse cx="277.5" cy="626.0" rx="25.4" ry="22.4" fill="none" stroke="#111" stroke-width="1" stroke-dasharray="2.2,1.6"/>
<ellipse cx="277.5" cy="626.0" rx="28" ry="24.6" fill="none" stroke="#111" stroke-width="1" stroke-dasharray="2.2,1.6"/>
<ellipse cx="348.3" cy="626.0" rx="19" ry="16.7" fill="none" stroke="#111" stroke-width="1" stroke-dasharray="2.2,1.6"/>
<ellipse cx="348.3" cy="626.0" rx="22.2" ry="19.5" fill="none" stroke="#111" stroke-width="1" stroke-dasharray="2.2,1.6"/>
<ellipse cx="348.3" cy="626.0" rx="25.4" ry="22.4" fill="none" stroke="#111" stroke-width="1" stroke-dasharray="2.2,1.6"/>
<ellipse cx="348.3" cy="626.0" rx="28" ry="24.6" fill="none" stroke="#111" stroke-width="1" stroke-dasharray="2.2,1.6"/>
<ellipse cx="241.5" cy="521.5" rx="28" ry="27" fill="#22ee34"/>
<ellipse cx="311.8" cy="521.5" rx="28" ry="27" fill="#22ee34"/>
<ellipse cx="241.5" cy="590.5" rx="28" ry="27" fill="#22ee34"/>
<ellipse cx="311.8" cy="590.5" rx="28" ry="27" fill="#22ee34"/>
<ellipse cx="241.5" cy="659.5" rx="28" ry="27" fill="#22ee34"/>
<ellipse cx="311.8" cy="659.5" rx="28" ry="27" fill="#22ee34"/>
<ellipse cx="241.5" cy="521.5" rx="21" ry="17.5" fill="url(#blobd)"/>
<ellipse cx="241.5" cy="521.5" rx="13.5" ry="11.5" fill="none" stroke="#111" stroke-width="1" stroke-dasharray="2.2,1.6"/>
<ellipse cx="241.5" cy="521.5" rx="17" ry="14.5" fill="none" stroke="#111" stroke-width="1" stroke-dasharray="2.2,1.6"/>
<ellipse cx="241.5" cy="521.5" rx="21" ry="17.8" fill="none" stroke="#111" stroke-width="1" stroke-dasharray="2.2,1.6"/>
<ellipse cx="241.5" cy="521.5" rx="24.5" ry="21.5" fill="none" stroke="#111" stroke-width="1" stroke-dasharray="2.2,1.6"/>
<ellipse cx="311.8" cy="521.5" rx="21" ry="17.5" fill="url(#blobd)"/>
<ellipse cx="311.8" cy="521.5" rx="13.5" ry="11.5" fill="none" stroke="#111" stroke-width="1" stroke-dasharray="2.2,1.6"/>
<ellipse cx="311.8" cy="521.5" rx="17" ry="14.5" fill="none" stroke="#111" stroke-width="1" stroke-dasharray="2.2,1.6"/>
<ellipse cx="311.8" cy="521.5" rx="21" ry="17.8" fill="none" stroke="#111" stroke-width="1" stroke-dasharray="2.2,1.6"/>
<ellipse cx="311.8" cy="521.5" rx="24.5" ry="21.5" fill="none" stroke="#111" stroke-width="1" stroke-dasharray="2.2,1.6"/>
<ellipse cx="241.5" cy="590.5" rx="21" ry="17.5" fill="url(#blobd)"/>
<ellipse cx="241.5" cy="590.5" rx="13.5" ry="11.5" fill="none" stroke="#111" stroke-width="1" stroke-dasharray="2.2,1.6"/>
<ellipse cx="241.5" cy="590.5" rx="17" ry="14.5" fill="none" stroke="#111" stroke-width="1" stroke-dasharray="2.2,1.6"/>
<ellipse cx="241.5" cy="590.5" rx="21" ry="17.8" fill="none" stroke="#111" stroke-width="1" stroke-dasharray="2.2,1.6"/>
<ellipse cx="241.5" cy="590.5" rx="24.5" ry="21.5" fill="none" stroke="#111" stroke-width="1" stroke-dasharray="2.2,1.6"/>
<ellipse cx="311.8" cy="590.5" rx="21" ry="17.5" fill="url(#blobd)"/>
<ellipse cx="311.8" cy="590.5" rx="13.5" ry="11.5" fill="none" stroke="#111" stroke-width="1" stroke-dasharray="2.2,1.6"/>
<ellipse cx="311.8" cy="590.5" rx="17" ry="14.5" fill="none" stroke="#111" stroke-width="1" stroke-dasharray="2.2,1.6"/>
<ellipse cx="311.8" cy="590.5" rx="21" ry="17.8" fill="none" stroke="#111" stroke-width="1" stroke-dasharray="2.2,1.6"/>
<ellipse cx="311.8" cy="590.5" rx="24.5" ry="21.5" fill="none" stroke="#111" stroke-width="1" stroke-dasharray="2.2,1.6"/>
<ellipse cx="241.5" cy="659.5" rx="21" ry="17.5" fill="url(#blobd)"/>
<ellipse cx="241.5" cy="659.5" rx="13.5" ry="11.5" fill="none" stroke="#111" stroke-width="1" stroke-dasharray="2.2,1.6"/>
<ellipse cx="241.5" cy="659.5" rx="17" ry="14.5" fill="none" stroke="#111" stroke-width="1" stroke-dasharray="2.2,1.6"/>
<ellipse cx="241.5" cy="659.5" rx="21" ry="17.8" fill="none" stroke="#111" stroke-width="1" stroke-dasharray="2.2,1.6"/>
<ellipse cx="241.5" cy="659.5" rx="24.5" ry="21.5" fill="none" stroke="#111" stroke-width="1" stroke-dasharray="2.2,1.6"/>
<ellipse cx="311.8" cy="659.5" rx="21" ry="17.5" fill="url(#blobd)"/>
<ellipse cx="311.8" cy="659.5" rx="13.5" ry="11.5" fill="none" stroke="#111" stroke-width="1" stroke-dasharray="2.2,1.6"/>
<ellipse cx="311.8" cy="659.5" rx="17" ry="14.5" fill="none" stroke="#111" stroke-width="1" stroke-dasharray="2.2,1.6"/>
<ellipse cx="311.8" cy="659.5" rx="21" ry="17.8" fill="none" stroke="#111" stroke-width="1" stroke-dasharray="2.2,1.6"/>
<ellipse cx="311.8" cy="659.5" rx="24.5" ry="21.5" fill="none" stroke="#111" stroke-width="1" stroke-dasharray="2.2,1.6"/>
</g>
<line x1="241.5" y1="521.5" x2="224.0" y2="539.8" stroke="#e01818" stroke-width="6.0"/>
<line x1="224.0" y1="539.8" x2="206.5" y2="558.0" stroke="#3878e0" stroke-width="6.0"/>
<line x1="240.4" y1="520.5" x2="205.4" y2="557.0" stroke="#ffe0e0" stroke-opacity="0.75" stroke-width="1.4"/>
<line x1="241.5" y1="521.5" x2="259.5" y2="539.8" stroke="#e01818" stroke-width="6.0"/>
<line x1="259.5" y1="539.8" x2="277.5" y2="558.0" stroke="#3878e0" stroke-width="6.0"/>
<line x1="240.4" y1="522.6" x2="276.4" y2="559.1" stroke="#ffe0e0" stroke-opacity="0.75" stroke-width="1.4"/>
<line x1="311.8" y1="521.5" x2="294.6" y2="539.8" stroke="#e01818" stroke-width="6.0"/>
<line x1="294.6" y1="539.8" x2="277.5" y2="558.0" stroke="#3878e0" stroke-width="6.0"/>
<line x1="310.7" y1="520.5" x2="276.4" y2="557.0" stroke="#ffe0e0" stroke-opacity="0.75" stroke-width="1.4"/>
<line x1="311.8" y1="521.5" x2="330.1" y2="539.8" stroke="#e01818" stroke-width="6.0"/>
<line x1="330.1" y1="539.8" x2="348.3" y2="558.0" stroke="#3878e0" stroke-width="6.0"/>
<line x1="310.7" y1="522.6" x2="347.2" y2="559.1" stroke="#ffe0e0" stroke-opacity="0.75" stroke-width="1.4"/>
<line x1="241.5" y1="590.5" x2="224.0" y2="574.2" stroke="#e01818" stroke-width="6.0"/>
<line x1="224.0" y1="574.2" x2="206.5" y2="558.0" stroke="#3878e0" stroke-width="6.0"/>
<line x1="242.5" y1="589.4" x2="207.5" y2="556.9" stroke="#ffe0e0" stroke-opacity="0.75" stroke-width="1.4"/>
<line x1="241.5" y1="590.5" x2="259.5" y2="574.2" stroke="#e01818" stroke-width="6.0"/>
<line x1="259.5" y1="574.2" x2="277.5" y2="558.0" stroke="#3878e0" stroke-width="6.0"/>
<line x1="242.5" y1="591.6" x2="278.5" y2="559.1" stroke="#ffe0e0" stroke-opacity="0.75" stroke-width="1.4"/>
<line x1="241.5" y1="590.5" x2="224.0" y2="608.2" stroke="#e01818" stroke-width="6.0"/>
<line x1="224.0" y1="608.2" x2="206.5" y2="626.0" stroke="#3878e0" stroke-width="6.0"/>
<line x1="240.4" y1="589.4" x2="205.4" y2="624.9" stroke="#ffe0e0" stroke-opacity="0.75" stroke-width="1.4"/>
<line x1="241.5" y1="590.5" x2="259.5" y2="608.2" stroke="#e01818" stroke-width="6.0"/>
<line x1="259.5" y1="608.2" x2="277.5" y2="626.0" stroke="#3878e0" stroke-width="6.0"/>
<line x1="240.4" y1="591.6" x2="276.4" y2="627.1" stroke="#ffe0e0" stroke-opacity="0.75" stroke-width="1.4"/>
<line x1="311.8" y1="590.5" x2="294.6" y2="574.2" stroke="#e01818" stroke-width="6.0"/>
<line x1="294.6" y1="574.2" x2="277.5" y2="558.0" stroke="#3878e0" stroke-width="6.0"/>
<line x1="312.8" y1="589.4" x2="278.5" y2="556.9" stroke="#ffe0e0" stroke-opacity="0.75" stroke-width="1.4"/>
<line x1="311.8" y1="590.5" x2="330.1" y2="574.2" stroke="#e01818" stroke-width="6.0"/>
<line x1="330.1" y1="574.2" x2="348.3" y2="558.0" stroke="#3878e0" stroke-width="6.0"/>
<line x1="312.8" y1="591.6" x2="349.3" y2="559.1" stroke="#ffe0e0" stroke-opacity="0.75" stroke-width="1.4"/>
<line x1="311.8" y1="590.5" x2="294.6" y2="608.2" stroke="#e01818" stroke-width="6.0"/>
<line x1="294.6" y1="608.2" x2="277.5" y2="626.0" stroke="#3878e0" stroke-width="6.0"/>
<line x1="310.7" y1="589.5" x2="276.4" y2="625.0" stroke="#ffe0e0" stroke-opacity="0.75" stroke-width="1.4"/>
<line x1="311.8" y1="590.5" x2="330.1" y2="608.2" stroke="#e01818" stroke-width="6.0"/>
<line x1="330.1" y1="608.2" x2="348.3" y2="626.0" stroke="#3878e0" stroke-width="6.0"/>
<line x1="310.8" y1="591.6" x2="347.3" y2="627.1" stroke="#ffe0e0" stroke-opacity="0.75" stroke-width="1.4"/>
<line x1="241.5" y1="659.5" x2="224.0" y2="642.8" stroke="#e01818" stroke-width="6.0"/>
<line x1="224.0" y1="642.8" x2="206.5" y2="626.0" stroke="#3878e0" stroke-width="6.0"/>
<line x1="242.5" y1="658.4" x2="207.5" y2="624.9" stroke="#ffe0e0" stroke-opacity="0.75" stroke-width="1.4"/>
<line x1="241.5" y1="659.5" x2="259.5" y2="642.8" stroke="#e01818" stroke-width="6.0"/>
<line x1="259.5" y1="642.8" x2="277.5" y2="626.0" stroke="#3878e0" stroke-width="6.0"/>
<line x1="242.5" y1="660.6" x2="278.5" y2="627.1" stroke="#ffe0e0" stroke-opacity="0.75" stroke-width="1.4"/>
<line x1="311.8" y1="659.5" x2="294.6" y2="642.8" stroke="#e01818" stroke-width="6.0"/>
<line x1="294.6" y1="642.8" x2="277.5" y2="626.0" stroke="#3878e0" stroke-width="6.0"/>
<line x1="312.8" y1="658.4" x2="278.5" y2="624.9" stroke="#ffe0e0" stroke-opacity="0.75" stroke-width="1.4"/>
<line x1="311.8" y1="659.5" x2="330.1" y2="642.8" stroke="#e01818" stroke-width="6.0"/>
<line x1="330.1" y1="642.8" x2="348.3" y2="626.0" stroke="#3878e0" stroke-width="6.0"/>
<line x1="312.8" y1="660.6" x2="349.3" y2="627.1" stroke="#ffe0e0" stroke-opacity="0.75" stroke-width="1.4"/>
<circle cx="206.5" cy="558.0" r="15.6" fill="url(#beatom)"/>
<circle cx="207.0" cy="558.8" r="1.9" fill="#e8f4ff"/>
<circle cx="277.5" cy="558.0" r="15.6" fill="url(#beatom)"/>
<circle cx="278.0" cy="558.8" r="1.9" fill="#e8f4ff"/>
<circle cx="348.3" cy="558.0" r="15.6" fill="url(#beatom)"/>
<circle cx="348.8" cy="558.8" r="1.9" fill="#e8f4ff"/>
<circle cx="206.5" cy="626.0" r="15.6" fill="url(#beatom)"/>
<circle cx="207.0" cy="626.8" r="1.9" fill="#e8f4ff"/>
<circle cx="277.5" cy="626.0" r="15.6" fill="url(#beatom)"/>
<circle cx="278.0" cy="626.8" r="1.9" fill="#e8f4ff"/>
<circle cx="348.3" cy="626.0" r="15.6" fill="url(#beatom)"/>
<circle cx="348.8" cy="626.8" r="1.9" fill="#e8f4ff"/>
<circle cx="241.5" cy="521.5" r="6.8" fill="url(#hatom)"/>
<circle cx="241.8" cy="521.8" r="1.6" fill="#ffd8d8" opacity="0.9"/>
<circle cx="311.8" cy="521.5" r="6.8" fill="url(#hatom)"/>
<circle cx="312.1" cy="521.8" r="1.6" fill="#ffd8d8" opacity="0.9"/>
<circle cx="241.5" cy="590.5" r="6.8" fill="url(#hatom)"/>
<circle cx="241.8" cy="590.8" r="1.6" fill="#ffd8d8" opacity="0.9"/>
<circle cx="311.8" cy="590.5" r="6.8" fill="url(#hatom)"/>
<circle cx="312.1" cy="590.8" r="1.6" fill="#ffd8d8" opacity="0.9"/>
<circle cx="241.5" cy="659.5" r="6.8" fill="url(#hatom)"/>
<circle cx="241.8" cy="659.8" r="1.6" fill="#ffd8d8" opacity="0.9"/>
<circle cx="311.8" cy="659.5" r="6.8" fill="url(#hatom)"/>
<circle cx="312.1" cy="659.8" r="1.6" fill="#ffd8d8" opacity="0.9"/>
<g clip-path="url(#clipe)">
<rect x="372.3" y="519.3" width="141.5" height="140" fill="#22ee34"/>
<rect x="359.8" y="541.3" width="28" height="28" rx="9" fill="#30e8c8"/>
<rect x="362.3" y="543.8" width="23" height="23" rx="7" fill="#46d8f2"/>
<rect x="366.8" y="548.3" width="14" height="14" rx="4" fill="#3cb6f0"/>
<rect x="360.3" y="541.8" width="27" height="27" rx="8" fill="none" stroke="#111" stroke-width="1" stroke-dasharray="2.2,1.6"/>
<rect x="365.3" y="546.8" width="17" height="17" rx="5" fill="none" stroke="#111" stroke-width="1" stroke-dasharray="2.2,1.6"/>
<path d="M373.8,552.7 L376.4,555.3 L373.8,557.9 L371.2,555.3 Z" fill="#3a9cec" stroke="#113" stroke-width="0.8"/>
<rect x="359.8" y="610.3" width="28" height="28" rx="9" fill="#30e8c8"/>
<rect x="362.3" y="612.8" width="23" height="23" rx="7" fill="#46d8f2"/>
<rect x="366.8" y="617.3" width="14" height="14" rx="4" fill="#3cb6f0"/>
<rect x="360.3" y="610.8" width="27" height="27" rx="8" fill="none" stroke="#111" stroke-width="1" stroke-dasharray="2.2,1.6"/>
<rect x="365.3" y="615.8" width="17" height="17" rx="5" fill="none" stroke="#111" stroke-width="1" stroke-dasharray="2.2,1.6"/>
<path d="M373.8,621.7 L376.4,624.3 L373.8,626.9 L371.2,624.3 Z" fill="#3a9cec" stroke="#113" stroke-width="0.8"/>
<rect x="394.4" y="506.8" width="28" height="28" rx="9" fill="#30e8c8"/>
<rect x="396.9" y="509.3" width="23" height="23" rx="7" fill="#46d8f2"/>
<rect x="401.4" y="513.8" width="14" height="14" rx="4" fill="#3cb6f0"/>
<rect x="394.9" y="507.3" width="27" height="27" rx="8" fill="none" stroke="#111" stroke-width="1" stroke-dasharray="2.2,1.6"/>
<rect x="399.9" y="512.3" width="17" height="17" rx="5" fill="none" stroke="#111" stroke-width="1" stroke-dasharray="2.2,1.6"/>
<path d="M408.4,518.2 L411.0,520.8 L408.4,523.4 L405.8,520.8 Z" fill="#3a9cec" stroke="#113" stroke-width="0.8"/>
<rect x="394.4" y="575.8" width="28" height="28" rx="9" fill="#30e8c8"/>
<rect x="396.9" y="578.3" width="23" height="23" rx="7" fill="#46d8f2"/>
<rect x="401.4" y="582.8" width="14" height="14" rx="4" fill="#3cb6f0"/>
<rect x="394.9" y="576.3" width="27" height="27" rx="8" fill="none" stroke="#111" stroke-width="1" stroke-dasharray="2.2,1.6"/>
<rect x="399.9" y="581.3" width="17" height="17" rx="5" fill="none" stroke="#111" stroke-width="1" stroke-dasharray="2.2,1.6"/>
<path d="M408.4,587.2 L411.0,589.8 L408.4,592.4 L405.8,589.8 Z" fill="#3a9cec" stroke="#113" stroke-width="0.8"/>
<rect x="394.4" y="644.8" width="28" height="28" rx="9" fill="#30e8c8"/>
<rect x="396.9" y="647.3" width="23" height="23" rx="7" fill="#46d8f2"/>
<rect x="401.4" y="651.8" width="14" height="14" rx="4" fill="#3cb6f0"/>
<rect x="394.9" y="645.3" width="27" height="27" rx="8" fill="none" stroke="#111" stroke-width="1" stroke-dasharray="2.2,1.6"/>
<rect x="399.9" y="650.3" width="17" height="17" rx="5" fill="none" stroke="#111" stroke-width="1" stroke-dasharray="2.2,1.6"/>
<path d="M408.4,656.2 L411.0,658.8 L408.4,661.4 L405.8,658.8 Z" fill="#3a9cec" stroke="#113" stroke-width="0.8"/>
<rect x="429.0" y="541.3" width="28" height="28" rx="9" fill="#30e8c8"/>
<rect x="431.5" y="543.8" width="23" height="23" rx="7" fill="#46d8f2"/>
<rect x="436.0" y="548.3" width="14" height="14" rx="4" fill="#3cb6f0"/>
<rect x="429.5" y="541.8" width="27" height="27" rx="8" fill="none" stroke="#111" stroke-width="1" stroke-dasharray="2.2,1.6"/>
<rect x="434.5" y="546.8" width="17" height="17" rx="5" fill="none" stroke="#111" stroke-width="1" stroke-dasharray="2.2,1.6"/>
<path d="M443.0,552.7 L445.6,555.3 L443.0,557.9 L440.4,555.3 Z" fill="#3a9cec" stroke="#113" stroke-width="0.8"/>
<rect x="429.0" y="610.3" width="28" height="28" rx="9" fill="#30e8c8"/>
<rect x="431.5" y="612.8" width="23" height="23" rx="7" fill="#46d8f2"/>
<rect x="436.0" y="617.3" width="14" height="14" rx="4" fill="#3cb6f0"/>
<rect x="429.5" y="610.8" width="27" height="27" rx="8" fill="none" stroke="#111" stroke-width="1" stroke-dasharray="2.2,1.6"/>
<rect x="434.5" y="615.8" width="17" height="17" rx="5" fill="none" stroke="#111" stroke-width="1" stroke-dasharray="2.2,1.6"/>
<path d="M443.0,621.7 L445.6,624.3 L443.0,626.9 L440.4,624.3 Z" fill="#3a9cec" stroke="#113" stroke-width="0.8"/>
<rect x="463.6" y="506.8" width="28" height="28" rx="9" fill="#30e8c8"/>
<rect x="466.1" y="509.3" width="23" height="23" rx="7" fill="#46d8f2"/>
<rect x="470.6" y="513.8" width="14" height="14" rx="4" fill="#3cb6f0"/>
<rect x="464.1" y="507.3" width="27" height="27" rx="8" fill="none" stroke="#111" stroke-width="1" stroke-dasharray="2.2,1.6"/>
<rect x="469.1" y="512.3" width="17" height="17" rx="5" fill="none" stroke="#111" stroke-width="1" stroke-dasharray="2.2,1.6"/>
<path d="M477.6,518.2 L480.2,520.8 L477.6,523.4 L475.0,520.8 Z" fill="#3a9cec" stroke="#113" stroke-width="0.8"/>
<rect x="463.6" y="575.8" width="28" height="28" rx="9" fill="#30e8c8"/>
<rect x="466.1" y="578.3" width="23" height="23" rx="7" fill="#46d8f2"/>
<rect x="470.6" y="582.8" width="14" height="14" rx="4" fill="#3cb6f0"/>
<rect x="464.1" y="576.3" width="27" height="27" rx="8" fill="none" stroke="#111" stroke-width="1" stroke-dasharray="2.2,1.6"/>
<rect x="469.1" y="581.3" width="17" height="17" rx="5" fill="none" stroke="#111" stroke-width="1" stroke-dasharray="2.2,1.6"/>
<path d="M477.6,587.2 L480.2,589.8 L477.6,592.4 L475.0,589.8 Z" fill="#3a9cec" stroke="#113" stroke-width="0.8"/>
<rect x="463.6" y="644.8" width="28" height="28" rx="9" fill="#30e8c8"/>
<rect x="466.1" y="647.3" width="23" height="23" rx="7" fill="#46d8f2"/>
<rect x="470.6" y="651.8" width="14" height="14" rx="4" fill="#3cb6f0"/>
<rect x="464.1" y="645.3" width="27" height="27" rx="8" fill="none" stroke="#111" stroke-width="1" stroke-dasharray="2.2,1.6"/>
<rect x="469.1" y="650.3" width="17" height="17" rx="5" fill="none" stroke="#111" stroke-width="1" stroke-dasharray="2.2,1.6"/>
<path d="M477.6,656.2 L480.2,658.8 L477.6,661.4 L475.0,658.8 Z" fill="#3a9cec" stroke="#113" stroke-width="0.8"/>
<rect x="498.2" y="541.3" width="28" height="28" rx="9" fill="#30e8c8"/>
<rect x="500.7" y="543.8" width="23" height="23" rx="7" fill="#46d8f2"/>
<rect x="505.2" y="548.3" width="14" height="14" rx="4" fill="#3cb6f0"/>
<rect x="498.7" y="541.8" width="27" height="27" rx="8" fill="none" stroke="#111" stroke-width="1" stroke-dasharray="2.2,1.6"/>
<rect x="503.7" y="546.8" width="17" height="17" rx="5" fill="none" stroke="#111" stroke-width="1" stroke-dasharray="2.2,1.6"/>
<path d="M512.2,552.7 L514.8,555.3 L512.2,557.9 L509.6,555.3 Z" fill="#3a9cec" stroke="#113" stroke-width="0.8"/>
<rect x="498.2" y="610.3" width="28" height="28" rx="9" fill="#30e8c8"/>
<rect x="500.7" y="612.8" width="23" height="23" rx="7" fill="#46d8f2"/>
<rect x="505.2" y="617.3" width="14" height="14" rx="4" fill="#3cb6f0"/>
<rect x="498.7" y="610.8" width="27" height="27" rx="8" fill="none" stroke="#111" stroke-width="1" stroke-dasharray="2.2,1.6"/>
<rect x="503.7" y="615.8" width="17" height="17" rx="5" fill="none" stroke="#111" stroke-width="1" stroke-dasharray="2.2,1.6"/>
<path d="M512.2,621.7 L514.8,624.3 L512.2,626.9 L509.6,624.3 Z" fill="#3a9cec" stroke="#113" stroke-width="0.8"/>
<ellipse cx="373.8" cy="520.8" rx="18.2" ry="18.2" fill="url(#blobe)"/>
<circle cx="373.8" cy="520.8" r="20.8" fill="none" stroke="#111" stroke-width="1" stroke-dasharray="2.2,1.6"/>
<ellipse cx="373.8" cy="589.8" rx="18.2" ry="18.2" fill="url(#blobe)"/>
<circle cx="373.8" cy="589.8" r="20.8" fill="none" stroke="#111" stroke-width="1" stroke-dasharray="2.2,1.6"/>
<ellipse cx="373.8" cy="658.8" rx="18.2" ry="18.2" fill="url(#blobe)"/>
<circle cx="373.8" cy="658.8" r="20.8" fill="none" stroke="#111" stroke-width="1" stroke-dasharray="2.2,1.6"/>
<ellipse cx="408.4" cy="555.3" rx="18.2" ry="18.2" fill="url(#blobe)"/>
<circle cx="408.4" cy="555.3" r="20.8" fill="none" stroke="#111" stroke-width="1" stroke-dasharray="2.2,1.6"/>
<ellipse cx="408.4" cy="624.3" rx="18.2" ry="18.2" fill="url(#blobe)"/>
<circle cx="408.4" cy="624.3" r="20.8" fill="none" stroke="#111" stroke-width="1" stroke-dasharray="2.2,1.6"/>
<ellipse cx="443.0" cy="520.8" rx="18.2" ry="18.2" fill="url(#blobe)"/>
<circle cx="443.0" cy="520.8" r="20.8" fill="none" stroke="#111" stroke-width="1" stroke-dasharray="2.2,1.6"/>
<ellipse cx="443.0" cy="589.8" rx="18.2" ry="18.2" fill="url(#blobe)"/>
<circle cx="443.0" cy="589.8" r="20.8" fill="none" stroke="#111" stroke-width="1" stroke-dasharray="2.2,1.6"/>
<ellipse cx="443.0" cy="658.8" rx="18.2" ry="18.2" fill="url(#blobe)"/>
<circle cx="443.0" cy="658.8" r="20.8" fill="none" stroke="#111" stroke-width="1" stroke-dasharray="2.2,1.6"/>
<ellipse cx="477.6" cy="555.3" rx="18.2" ry="18.2" fill="url(#blobe)"/>
<circle cx="477.6" cy="555.3" r="20.8" fill="none" stroke="#111" stroke-width="1" stroke-dasharray="2.2,1.6"/>
<ellipse cx="477.6" cy="624.3" rx="18.2" ry="18.2" fill="url(#blobe)"/>
<circle cx="477.6" cy="624.3" r="20.8" fill="none" stroke="#111" stroke-width="1" stroke-dasharray="2.2,1.6"/>
<ellipse cx="512.2" cy="520.8" rx="18.2" ry="18.2" fill="url(#blobe)"/>
<circle cx="512.2" cy="520.8" r="20.8" fill="none" stroke="#111" stroke-width="1" stroke-dasharray="2.2,1.6"/>
<ellipse cx="512.2" cy="589.8" rx="18.2" ry="18.2" fill="url(#blobe)"/>
<circle cx="512.2" cy="589.8" r="20.8" fill="none" stroke="#111" stroke-width="1" stroke-dasharray="2.2,1.6"/>
<ellipse cx="512.2" cy="658.8" rx="18.2" ry="18.2" fill="url(#blobe)"/>
<circle cx="512.2" cy="658.8" r="20.8" fill="none" stroke="#111" stroke-width="1" stroke-dasharray="2.2,1.6"/>
</g>
<line x1="373.8" y1="520.8" x2="391.1" y2="538.0" stroke="#d4121a" stroke-width="6.2"/>
<line x1="391.1" y1="538.0" x2="408.4" y2="555.3" stroke="#d4121a" stroke-width="6.2"/>
<line x1="372.7" y1="521.9" x2="407.3" y2="556.4" stroke="#ffe0e0" stroke-opacity="0.75" stroke-width="1.5"/>
<line x1="373.8" y1="589.8" x2="391.1" y2="607.0" stroke="#d4121a" stroke-width="6.2"/>
<line x1="391.1" y1="607.0" x2="408.4" y2="624.3" stroke="#d4121a" stroke-width="6.2"/>
<line x1="372.7" y1="590.9" x2="407.3" y2="625.4" stroke="#ffe0e0" stroke-opacity="0.75" stroke-width="1.5"/>
<line x1="373.8" y1="589.8" x2="391.1" y2="572.5" stroke="#d4121a" stroke-width="6.2"/>
<line x1="391.1" y1="572.5" x2="408.4" y2="555.3" stroke="#d4121a" stroke-width="6.2"/>
<line x1="374.9" y1="590.9" x2="409.5" y2="556.4" stroke="#ffe0e0" stroke-opacity="0.75" stroke-width="1.5"/>
<line x1="373.8" y1="658.8" x2="391.1" y2="641.5" stroke="#d4121a" stroke-width="6.2"/>
<line x1="391.1" y1="641.5" x2="408.4" y2="624.3" stroke="#d4121a" stroke-width="6.2"/>
<line x1="374.9" y1="659.9" x2="409.5" y2="625.4" stroke="#ffe0e0" stroke-opacity="0.75" stroke-width="1.5"/>
<line x1="408.4" y1="555.3" x2="425.7" y2="572.5" stroke="#d4121a" stroke-width="6.2"/>
<line x1="425.7" y1="572.5" x2="443.0" y2="589.8" stroke="#d4121a" stroke-width="6.2"/>
<line x1="407.3" y1="556.4" x2="441.9" y2="590.9" stroke="#ffe0e0" stroke-opacity="0.75" stroke-width="1.5"/>
<line x1="408.4" y1="555.3" x2="425.7" y2="538.0" stroke="#d4121a" stroke-width="6.2"/>
<line x1="425.7" y1="538.0" x2="443.0" y2="520.8" stroke="#d4121a" stroke-width="6.2"/>
<line x1="409.5" y1="556.4" x2="444.1" y2="521.9" stroke="#ffe0e0" stroke-opacity="0.75" stroke-width="1.5"/>
<line x1="408.4" y1="624.3" x2="425.7" y2="641.5" stroke="#d4121a" stroke-width="6.2"/>
<line x1="425.7" y1="641.5" x2="443.0" y2="658.8" stroke="#d4121a" stroke-width="6.2"/>
<line x1="407.3" y1="625.4" x2="441.9" y2="659.9" stroke="#ffe0e0" stroke-opacity="0.75" stroke-width="1.5"/>
<line x1="408.4" y1="624.3" x2="425.7" y2="607.0" stroke="#d4121a" stroke-width="6.2"/>
<line x1="425.7" y1="607.0" x2="443.0" y2="589.8" stroke="#d4121a" stroke-width="6.2"/>
<line x1="409.5" y1="625.4" x2="444.1" y2="590.9" stroke="#ffe0e0" stroke-opacity="0.75" stroke-width="1.5"/>
<line x1="443.0" y1="520.8" x2="460.3" y2="538.0" stroke="#d4121a" stroke-width="6.2"/>
<line x1="460.3" y1="538.0" x2="477.6" y2="555.3" stroke="#d4121a" stroke-width="6.2"/>
<line x1="441.9" y1="521.9" x2="476.5" y2="556.4" stroke="#ffe0e0" stroke-opacity="0.75" stroke-width="1.5"/>
<line x1="443.0" y1="589.8" x2="460.3" y2="607.0" stroke="#d4121a" stroke-width="6.2"/>
<line x1="460.3" y1="607.0" x2="477.6" y2="624.3" stroke="#d4121a" stroke-width="6.2"/>
<line x1="441.9" y1="590.9" x2="476.5" y2="625.4" stroke="#ffe0e0" stroke-opacity="0.75" stroke-width="1.5"/>
<line x1="443.0" y1="589.8" x2="460.3" y2="572.5" stroke="#d4121a" stroke-width="6.2"/>
<line x1="460.3" y1="572.5" x2="477.6" y2="555.3" stroke="#d4121a" stroke-width="6.2"/>
<line x1="444.1" y1="590.9" x2="478.7" y2="556.4" stroke="#ffe0e0" stroke-opacity="0.75" stroke-width="1.5"/>
<line x1="443.0" y1="658.8" x2="460.3" y2="641.5" stroke="#d4121a" stroke-width="6.2"/>
<line x1="460.3" y1="641.5" x2="477.6" y2="624.3" stroke="#d4121a" stroke-width="6.2"/>
<line x1="444.1" y1="659.9" x2="478.7" y2="625.4" stroke="#ffe0e0" stroke-opacity="0.75" stroke-width="1.5"/>
<line x1="477.6" y1="555.3" x2="494.9" y2="572.5" stroke="#d4121a" stroke-width="6.2"/>
<line x1="494.9" y1="572.5" x2="512.2" y2="589.8" stroke="#d4121a" stroke-width="6.2"/>
<line x1="476.5" y1="556.4" x2="511.1" y2="590.9" stroke="#ffe0e0" stroke-opacity="0.75" stroke-width="1.5"/>
<line x1="477.6" y1="555.3" x2="494.9" y2="538.0" stroke="#d4121a" stroke-width="6.2"/>
<line x1="494.9" y1="538.0" x2="512.2" y2="520.8" stroke="#d4121a" stroke-width="6.2"/>
<line x1="478.7" y1="556.4" x2="513.3" y2="521.9" stroke="#ffe0e0" stroke-opacity="0.75" stroke-width="1.5"/>
<line x1="477.6" y1="624.3" x2="494.9" y2="641.5" stroke="#d4121a" stroke-width="6.2"/>
<line x1="494.9" y1="641.5" x2="512.2" y2="658.8" stroke="#d4121a" stroke-width="6.2"/>
<line x1="476.5" y1="625.4" x2="511.1" y2="659.9" stroke="#ffe0e0" stroke-opacity="0.75" stroke-width="1.5"/>
<line x1="477.6" y1="624.3" x2="494.9" y2="607.0" stroke="#d4121a" stroke-width="6.2"/>
<line x1="494.9" y1="607.0" x2="512.2" y2="589.8" stroke="#d4121a" stroke-width="6.2"/>
<line x1="478.7" y1="625.4" x2="513.3" y2="590.9" stroke="#ffe0e0" stroke-opacity="0.75" stroke-width="1.5"/>
<circle cx="373.8" cy="520.8" r="5.9" fill="url(#hatom)"/>
<circle cx="374.1" cy="521.1" r="1.4" fill="#ffd8d8" opacity="0.9"/>
<circle cx="373.8" cy="589.8" r="5.9" fill="url(#hatom)"/>
<circle cx="374.1" cy="590.1" r="1.4" fill="#ffd8d8" opacity="0.9"/>
<circle cx="373.8" cy="658.8" r="5.9" fill="url(#hatom)"/>
<circle cx="374.1" cy="659.1" r="1.4" fill="#ffd8d8" opacity="0.9"/>
<circle cx="408.4" cy="555.3" r="5.9" fill="url(#hatom)"/>
<circle cx="408.7" cy="555.6" r="1.4" fill="#ffd8d8" opacity="0.9"/>
<circle cx="408.4" cy="624.3" r="5.9" fill="url(#hatom)"/>
<circle cx="408.7" cy="624.6" r="1.4" fill="#ffd8d8" opacity="0.9"/>
<circle cx="443.0" cy="520.8" r="5.9" fill="url(#hatom)"/>
<circle cx="443.3" cy="521.1" r="1.4" fill="#ffd8d8" opacity="0.9"/>
<circle cx="443.0" cy="589.8" r="5.9" fill="url(#hatom)"/>
<circle cx="443.3" cy="590.1" r="1.4" fill="#ffd8d8" opacity="0.9"/>
<circle cx="443.0" cy="658.8" r="5.9" fill="url(#hatom)"/>
<circle cx="443.3" cy="659.1" r="1.4" fill="#ffd8d8" opacity="0.9"/>
<circle cx="477.6" cy="555.3" r="5.9" fill="url(#hatom)"/>
<circle cx="477.9" cy="555.6" r="1.4" fill="#ffd8d8" opacity="0.9"/>
<circle cx="477.6" cy="624.3" r="5.9" fill="url(#hatom)"/>
<circle cx="477.9" cy="624.6" r="1.4" fill="#ffd8d8" opacity="0.9"/>
<circle cx="512.2" cy="520.8" r="5.9" fill="url(#hatom)"/>
<circle cx="512.5" cy="521.1" r="1.4" fill="#ffd8d8" opacity="0.9"/>
<circle cx="512.2" cy="589.8" r="5.9" fill="url(#hatom)"/>
<circle cx="512.5" cy="590.1" r="1.4" fill="#ffd8d8" opacity="0.9"/>
<circle cx="512.2" cy="658.8" r="5.9" fill="url(#hatom)"/>
<circle cx="512.5" cy="659.1" r="1.4" fill="#ffd8d8" opacity="0.9"/>
<text x="30.5" y="508.8" font-size="15" text-anchor="start" font-style="normal" font-weight="bold" fill="#000">(c)</text>
<text x="84" y="508.5" font-size="16" text-anchor="start" font-style="italic" font-weight="bold" fill="#000">Cmcm</text>
<text x="202.8" y="509.0" font-size="15.8" text-anchor="start" font-style="normal" font-weight="bold" fill="#000">(d)</text>
<text x="249" y="507.6" font-size="15.5" text-anchor="start" font-style="italic" font-weight="bold" fill="#000">P4/nmm</text>
<text x="366.5" y="508.6" font-size="15" text-anchor="start" font-style="normal" font-weight="bold" fill="#000">(e)</text>
<text x="418" y="507.6" font-size="15.5" text-anchor="start" font-style="italic" font-weight="bold" fill="#000">P4/nmm</text>
<text x="98.7" y="682.5" font-size="15.5" text-anchor="middle" font-style="normal" font-weight="bold" fill="#000">(100) plane</text>
<text x="276.3" y="682.6" font-size="15.5" text-anchor="middle" font-style="normal" font-weight="bold" fill="#000">(001) plane</text>
<text x="439.5" y="682.3" font-size="15.5" text-anchor="middle" font-style="normal" font-weight="bold" fill="#000">(001) plane</text>
<text x="439.4" y="698.4" font-size="15.7" text-anchor="middle" font-style="normal" font-weight="bold" fill="#000">metallic H-layer</text>
<line x1="90.56" y1="347.6" x2="465" y2="347.6" stroke="#2bd62b" stroke-width="2.3" stroke-dasharray="5.4,5.84"/>
<line x1="87.56" y1="122.5" x2="469.6" y2="122.5" stroke="#2bd62b" stroke-width="2.3" stroke-dasharray="5.4,5.84"/>
<line x1="124.2" y1="16.6" x2="124.2" y2="227.0" stroke="#2c2c2c" stroke-width="2.1"/>
<line x1="159.3" y1="16.6" x2="159.3" y2="227.0" stroke="#2c2c2c" stroke-width="2.1"/>
<line x1="194.0" y1="16.6" x2="194.0" y2="227.0" stroke="#2c2c2c" stroke-width="2.1"/>
<line x1="227.3" y1="16.6" x2="227.3" y2="227.0" stroke="#2c2c2c" stroke-width="2.1"/>
<line x1="284.2" y1="16.6" x2="284.2" y2="227.0" stroke="#2c2c2c" stroke-width="2.1"/>
<line x1="319.4" y1="16.6" x2="319.4" y2="227.0" stroke="#2c2c2c" stroke-width="2.1"/>
<path d="M89.5,76.6C91.1,73.2 96.6,61.1 99.0,56.0C101.4,50.9 102.3,49.4 104.0,46.0C105.7,42.6 107.7,37.2 109.0,35.5C110.3,33.8 110.5,34.1 112.0,36.0C113.5,37.9 116.0,43.0 118.0,47.0C120.0,51.0 123.2,57.6 124.2,59.7M89.5,76.6C90.2,78.0 92.2,82.6 93.5,85.0C94.8,87.4 95.8,89.3 97.3,91.2C98.8,93.1 100.9,96.5 102.7,96.5C104.5,96.5 105.8,94.8 108.0,91.0C110.2,87.2 113.1,78.7 115.8,73.5C118.5,68.3 122.8,62.0 124.2,59.7M89.5,76.6C91.3,77.9 96.8,81.9 100.4,84.3C104.0,86.7 107.0,89.0 111.0,91.2C115.0,93.4 122.0,96.5 124.2,97.6M89.5,103.5C90.3,103.5 92.0,103.7 94.2,103.2C96.4,102.7 100.4,100.8 102.7,100.6C105.0,100.4 105.8,101.8 108.0,101.9C110.2,102.0 113.1,101.9 115.8,101.2C118.5,100.5 122.8,98.2 124.2,97.6M89.5,148.0C91.2,146.0 96.9,138.8 100.0,136.0C103.1,133.2 105.3,131.2 108.0,131.2C110.7,131.2 113.3,134.1 116.0,136.0C118.7,137.9 122.8,141.6 124.2,142.7M89.5,158.5C91.3,158.1 96.5,157.3 100.4,155.8C104.3,154.3 108.7,151.8 112.7,149.6C116.7,147.4 122.3,143.8 124.2,142.7M89.5,158.5C92.1,161.4 99.2,169.4 105.0,176.2C110.8,182.9 121.0,195.2 124.2,199.0M89.5,213.0C91.3,212.8 96.5,212.5 100.4,211.5C104.3,210.5 108.7,209.1 112.7,207.0C116.7,204.9 122.3,200.3 124.2,199.0M124.2,59.7C125.3,59.6 128.6,59.4 131.0,59.0C133.4,58.6 136.2,58.5 138.8,57.5C141.5,56.5 144.6,55.2 146.9,53.3C149.2,51.3 151.0,47.8 152.7,45.8C154.4,43.8 156.2,42.1 157.3,41.2C158.4,40.3 159.0,40.7 159.3,40.6M124.2,97.6C125.1,96.4 127.7,93.7 129.6,90.5C131.5,87.3 133.5,82.0 135.8,78.2C138.1,74.4 140.9,70.3 143.5,67.4C146.1,64.5 148.9,62.2 151.5,60.8C154.1,59.4 158.0,59.3 159.3,59.0M124.2,142.7C125.3,143.6 128.6,146.1 131.0,148.0C133.4,149.9 135.7,151.9 138.8,154.2C141.9,156.5 146.8,160.3 149.6,162.0C152.4,163.7 154.2,164.0 155.8,164.6C157.4,165.2 158.7,165.3 159.3,165.4M124.2,199.0C125.4,198.8 127.5,198.9 131.2,198.0C134.9,197.1 141.8,194.8 146.5,193.8C151.2,192.8 157.2,192.1 159.3,191.8M159.3,40.6C159.9,40.0 161.6,37.1 163.0,36.9C164.4,36.7 165.8,38.8 167.7,39.4C169.6,40.0 171.9,40.0 174.6,40.6C177.3,41.2 181.3,42.5 183.8,43.2C186.3,43.9 188.2,45.1 189.6,44.6C191.0,44.1 191.8,41.0 192.5,40.0C193.2,39.0 193.6,37.5 193.8,38.8C194.0,40.1 193.8,46.5 193.8,48.0M159.3,40.6C159.9,40.8 161.6,41.9 163.0,41.7C164.4,41.5 165.8,39.3 167.7,39.4C169.6,39.5 171.9,41.2 174.6,42.3C177.3,43.4 181.1,44.7 183.8,45.8C186.5,46.9 189.1,48.3 190.8,48.7C192.5,49.1 193.3,48.1 193.8,48.0M159.3,59.0C159.9,59.5 161.6,60.1 163.0,61.9C164.4,63.7 165.7,66.8 167.7,70.0C169.7,73.2 173.0,77.5 175.0,81.2C177.0,84.9 177.5,86.2 179.6,92.0C181.7,97.8 185.1,110.2 187.3,115.8C189.5,121.4 191.6,123.8 192.7,125.8C193.8,127.8 193.8,127.6 194.0,128.0M159.3,59.0C160.3,59.3 163.6,59.0 165.4,60.8C167.2,62.6 168.2,66.0 170.0,70.0C171.8,74.0 174.1,80.7 176.5,85.0C178.9,89.3 182.1,93.0 184.2,95.8C186.2,98.6 187.2,100.5 188.8,101.9C190.4,103.3 193.1,103.8 194.0,104.2M159.3,165.4C160.1,164.3 161.8,161.4 164.2,158.8C166.6,156.2 169.9,153.4 173.5,149.6C177.1,145.8 182.4,139.4 185.8,135.8C189.2,132.2 192.6,129.3 194.0,128.0M159.3,165.4C161.2,163.5 166.5,157.1 170.4,154.2C174.3,151.3 178.8,149.5 182.7,148.0C186.6,146.5 192.1,145.5 194.0,145.0M159.3,191.8C160.6,191.7 163.4,191.0 167.3,191.2C171.2,191.4 178.2,192.4 182.7,192.8C187.1,193.2 192.1,193.6 194.0,193.8M159.3,191.8C161.2,192.5 166.5,194.8 170.4,196.2C174.3,197.6 178.8,199.1 182.7,200.0C186.6,200.9 192.1,201.2 194.0,201.5M194.0,48.0C194.2,48.3 194.2,49.6 195.4,49.8C196.6,50.0 199.1,49.5 201.0,49.0C202.9,48.5 205.2,47.4 207.0,46.5C208.8,45.6 210.0,41.2 212.0,43.5C214.0,45.8 216.4,54.2 219.0,60.0C221.6,65.8 225.9,75.2 227.3,78.2M194.0,48.0C194.4,49.0 194.8,50.3 196.5,53.8C198.2,57.3 201.9,64.8 204.2,68.9C206.5,73.0 208.3,76.0 210.4,78.2C212.5,80.4 214.4,81.6 216.5,82.0C218.6,82.4 220.9,81.1 222.7,80.5C224.5,79.9 226.5,78.6 227.3,78.2M194.0,104.2C195.2,104.0 198.0,103.5 201.0,102.7C204.0,101.9 208.9,99.8 212.0,99.6C215.1,99.3 217.0,100.5 219.6,101.2C222.2,101.9 226.0,103.1 227.3,103.5M194.0,128.0C195.2,126.7 198.5,123.5 201.0,120.4C203.5,117.3 206.2,113.4 208.8,109.6C211.4,105.8 214.2,101.0 216.5,97.3C218.8,93.6 220.9,90.5 222.7,87.3C224.5,84.1 226.5,79.7 227.3,78.2M194.0,128.0C195.2,128.4 198.3,128.8 201.0,130.4C203.7,132.0 207.0,134.9 210.4,137.3C213.8,139.7 218.4,143.2 221.2,145.0C224.0,146.8 226.3,147.5 227.3,148.0M194.0,145.0C195.2,145.5 197.2,145.9 201.0,148.0C204.8,150.1 212.1,155.5 216.5,157.3C220.9,159.1 225.5,158.7 227.3,159.0M194.0,193.8C195.2,192.9 198.0,191.7 201.0,188.5C204.0,185.3 208.9,178.4 212.0,174.6C215.1,170.8 217.0,168.0 219.6,165.4C222.2,162.8 226.0,160.1 227.3,159.0M194.0,201.5C196.0,202.4 202.1,205.3 205.8,207.0C209.6,208.7 212.9,210.5 216.5,211.5C220.1,212.5 225.5,212.8 227.3,213.0M227.3,78.2C228.2,77.1 230.8,73.4 233.0,71.5C235.2,69.6 238.5,67.1 240.5,66.9C242.5,66.7 243.4,69.5 245.0,70.3C246.6,71.1 248.2,71.6 250.0,71.8C251.8,72.0 253.9,70.9 255.8,71.5C257.7,72.1 259.6,73.7 261.5,75.4C263.4,77.1 265.1,79.6 267.3,81.6C269.6,83.6 272.9,85.1 275.0,87.4C277.1,89.7 278.3,93.3 279.8,95.6C281.3,97.9 283.5,100.3 284.2,101.3M227.3,78.2C229.0,78.5 234.5,79.3 237.4,80.0C240.3,80.7 242.4,81.8 245.0,82.5C247.6,83.2 250.4,84.2 252.8,84.4C255.2,84.7 257.2,84.3 259.6,84.0C262.0,83.7 264.7,82.0 267.3,82.6C269.9,83.2 272.6,86.2 275.0,87.4C277.4,88.6 280.2,89.3 281.7,89.8C283.2,90.3 283.8,90.2 284.2,90.3M227.3,78.2C229.0,78.3 235.0,78.2 237.4,78.9C239.8,79.6 240.2,80.7 242.0,82.3C243.8,83.9 246.1,85.9 248.2,88.5C250.2,91.1 252.2,94.7 254.3,97.7C256.4,100.7 258.2,103.6 260.5,106.5C262.8,109.4 265.7,112.3 268.0,115.0C270.3,117.7 272.2,120.5 274.3,122.7C276.4,124.9 278.9,126.8 280.5,128.0C282.1,129.2 283.6,129.3 284.2,129.6M227.3,103.5C229.0,103.8 234.5,104.4 237.4,105.0C240.3,105.6 242.4,106.4 245.0,107.0C247.6,107.6 250.4,108.9 252.8,108.8C255.2,108.7 256.9,108.6 259.6,106.2C262.3,103.8 266.6,97.7 269.2,94.6C271.8,91.5 273.2,90.0 275.0,87.4C276.8,84.8 278.3,81.3 279.8,79.2C281.3,77.1 283.5,75.6 284.2,74.9M227.3,158.0C229.0,157.8 233.2,158.3 237.4,156.5C241.7,154.7 249.0,150.1 252.8,147.3C256.7,144.5 258.0,142.4 260.5,139.6C263.0,136.8 265.7,133.2 268.0,130.4C270.3,127.6 272.2,125.3 274.3,122.7C276.4,120.1 278.9,116.9 280.5,115.0C282.1,113.1 283.6,111.8 284.2,111.2M227.3,148.0C229.0,147.6 233.2,147.2 237.4,145.8C241.7,144.4 249.0,140.4 252.8,139.6C256.7,138.8 258.0,140.2 260.5,141.2C263.0,142.2 265.7,145.3 268.0,145.8C270.3,146.3 271.6,145.1 274.3,144.2C277.0,143.3 282.6,141.2 284.2,140.6M227.3,159.0C229.0,158.7 233.2,158.2 237.4,157.3C241.7,156.4 247.7,154.5 252.8,153.5C257.9,152.5 264.4,150.8 268.0,151.2C271.6,151.6 271.6,153.9 274.3,155.8C277.0,157.7 282.6,161.5 284.2,162.7M227.3,213.0C229.5,212.9 235.2,214.0 240.5,212.5C245.8,211.0 253.4,207.8 259.0,203.8C264.6,199.8 270.1,192.2 274.3,188.5C278.5,184.8 282.6,182.8 284.2,181.7M284.2,74.9C285.4,75.6 288.4,76.9 291.5,78.8C294.6,80.7 299.5,84.2 303.0,86.5C306.5,88.8 310.0,91.1 312.7,92.3C315.4,93.5 318.3,93.3 319.4,93.5M284.2,90.3C285.1,89.8 287.7,88.6 289.4,87.0C291.1,85.4 292.5,80.9 294.3,80.7C296.1,80.5 298.6,84.5 300.0,86.0C301.4,87.5 301.2,88.0 303.0,89.4C304.8,90.8 308.1,93.5 310.8,94.2C313.5,94.9 318.0,93.6 319.4,93.5M284.2,101.3C285.2,101.5 287.5,102.3 290.0,102.3C292.5,102.3 296.4,101.1 299.2,101.5C302.0,101.9 304.6,103.3 307.0,104.8C309.4,106.3 311.6,109.3 313.7,110.6C315.8,111.9 318.4,112.2 319.4,112.5M284.2,111.2C285.1,111.9 287.9,113.9 289.6,115.4C291.3,117.0 292.7,119.2 294.3,120.5C295.9,121.8 296.8,123.2 299.2,123.0C301.6,122.8 305.4,121.0 308.8,119.2C312.2,117.5 317.6,113.6 319.4,112.5M284.2,129.6C285.4,129.6 289.0,129.3 291.5,129.8C294.0,130.3 296.3,130.9 299.2,132.7C302.1,134.5 305.4,138.5 308.8,140.4C312.2,142.3 317.6,143.6 319.4,144.2M284.2,140.6C285.6,140.4 289.3,138.7 292.8,139.2C296.3,139.7 300.6,143.0 305.0,143.8C309.4,144.6 317.0,144.1 319.4,144.2M284.2,162.7C286.0,162.9 291.5,163.7 295.0,164.0C298.5,164.3 300.9,163.9 305.0,164.5C309.1,165.1 317.0,167.0 319.4,167.5M284.2,181.7C287.2,181.2 296.1,181.0 302.0,178.6C307.9,176.2 316.5,169.3 319.4,167.5M319.4,93.5C320.8,93.4 324.9,93.2 328.0,92.7C331.1,92.2 334.8,92.1 337.7,90.4C340.6,88.7 342.8,85.9 345.4,82.7C347.9,79.5 350.8,74.6 353.0,71.2C355.2,67.8 356.6,64.4 358.8,62.5C361.1,60.6 363.7,60.1 366.5,59.6C369.3,59.1 374.2,59.3 375.8,59.2M319.4,112.5C321.2,111.4 326.3,108.5 330.0,105.8C333.7,103.1 338.3,98.1 341.5,96.2C344.7,94.3 345.7,94.6 349.2,94.6C352.7,94.6 358.3,95.7 362.7,96.2C367.1,96.7 373.6,97.5 375.8,97.7M319.4,144.2C321.6,143.4 328.5,140.4 332.8,139.2C337.1,138.0 340.4,136.8 345.0,136.8C349.6,136.8 355.4,138.3 360.5,139.2C365.6,140.1 373.2,141.8 375.8,142.3M319.4,167.5C322.1,168.9 330.5,172.4 335.8,176.2C341.1,179.9 346.6,186.7 351.2,190.0C355.8,193.3 359.4,194.8 363.5,196.2C367.6,197.6 373.8,198.0 375.8,198.3" fill="none" stroke="#111" stroke-width="2.0" stroke-linejoin="round" stroke-linecap="round"/>
<rect x="89.3" y="16.6" width="286.5" height="210.4" fill="none" stroke="#111" stroke-width="2.2"/>
<line x1="85.3" y1="37.5" x2="89.3" y2="37.5" stroke="#111" stroke-width="1.8"/>
<text x="81.2" y="41.5" font-size="14.5" text-anchor="end" font-style="normal" font-weight="bold" fill="#000" >20</text>
<line x1="85.3" y1="79.7" x2="89.3" y2="79.7" stroke="#111" stroke-width="1.8"/>
<text x="81.2" y="83.7" font-size="14.5" text-anchor="end" font-style="normal" font-weight="bold" fill="#000" >10</text>
<line x1="85.3" y1="121.9" x2="89.3" y2="121.9" stroke="#111" stroke-width="1.8"/>
<text x="81.2" y="125.9" font-size="14.5" text-anchor="end" font-style="normal" font-weight="bold" fill="#000" >0</text>
<line x1="85.3" y1="164.1" x2="89.3" y2="164.1" stroke="#111" stroke-width="1.8"/>
<text x="81.2" y="168.1" font-size="14.5" text-anchor="end" font-style="normal" font-weight="bold" fill="#000" >-10</text>
<line x1="85.3" y1="206.3" x2="89.3" y2="206.3" stroke="#111" stroke-width="1.8"/>
<text x="81.2" y="210.3" font-size="14.5" text-anchor="end" font-style="normal" font-weight="bold" fill="#000" >-20</text>
<line x1="86.3" y1="58.6" x2="89.3" y2="58.6" stroke="#111" stroke-width="1.4"/>
<line x1="86.3" y1="100.8" x2="89.3" y2="100.8" stroke="#111" stroke-width="1.4"/>
<line x1="86.3" y1="143.0" x2="89.3" y2="143.0" stroke="#111" stroke-width="1.4"/>
<line x1="86.3" y1="185.2" x2="89.3" y2="185.2" stroke="#111" stroke-width="1.4"/>
<line x1="86.3" y1="227.4" x2="89.3" y2="227.4" stroke="#111" stroke-width="1.4"/>
<text x="89.3" y="240.3" font-size="14" text-anchor="middle" font-style="normal" font-weight="bold" fill="#000" >G</text>
<text x="124.2" y="240.3" font-size="14" text-anchor="middle" font-style="normal" font-weight="bold" fill="#000" >Z</text>
<text x="159.3" y="240.3" font-size="14" text-anchor="middle" font-style="normal" font-weight="bold" fill="#000" >T</text>
<text x="194.0" y="240.3" font-size="14" text-anchor="middle" font-style="normal" font-weight="bold" fill="#000" >Y</text>
<text x="227.3" y="240.3" font-size="14" text-anchor="middle" font-style="normal" font-weight="bold" fill="#000" >G</text>
<text x="284.2" y="240.3" font-size="14" text-anchor="middle" font-style="normal" font-weight="bold" fill="#000" >S</text>
<text x="319.4" y="240.3" font-size="14" text-anchor="middle" font-style="normal" font-weight="bold" fill="#000" >R</text>
<text x="375.8" y="240.3" font-size="14" text-anchor="middle" font-style="normal" font-weight="bold" fill="#000" >Z</text>
<text transform="translate(56.6,121.2) rotate(-90)" x="0" y="0" font-size="16.2" text-anchor="middle" font-weight="bold">Energy (eV)</text>
<line x1="151.3" y1="257.4" x2="151.3" y2="482.7" stroke="#2c2c2c" stroke-width="2.1"/>
<line x1="176.8" y1="257.4" x2="176.8" y2="482.7" stroke="#2c2c2c" stroke-width="2.1"/>
<line x1="236.6" y1="257.4" x2="236.6" y2="482.7" stroke="#2c2c2c" stroke-width="2.1"/>
<line x1="262.5" y1="257.4" x2="262.5" y2="482.7" stroke="#2c2c2c" stroke-width="2.1"/>
<line x1="305.2" y1="257.4" x2="305.2" y2="482.7" stroke="#2c2c2c" stroke-width="2.1"/>
<line x1="330.2" y1="257.4" x2="330.2" y2="482.7" stroke="#2c2c2c" stroke-width="2.1"/>
<path d="M91.4,283.7C92.2,284.1 94.3,285.0 96.0,286.0C97.7,287.0 99.0,286.8 101.5,289.5C104.0,292.2 107.8,297.9 110.9,302.1C114.0,306.3 117.8,313.8 120.3,314.9C122.8,316.0 123.7,310.8 125.7,308.8C127.7,306.8 131.3,303.8 132.4,302.8M91.4,295.4C92.2,295.1 94.4,294.5 96.1,293.4C97.8,292.3 99.7,290.6 101.5,289.0C103.3,287.4 105.0,285.2 107.0,284.0C109.0,282.8 111.8,281.9 113.8,281.8C115.8,281.7 117.2,282.1 119.0,283.5C120.8,284.9 122.7,287.8 124.3,290.0C125.9,292.2 127.1,294.6 128.4,296.7C129.8,298.8 130.6,300.6 132.4,302.8C134.2,305.1 137.1,308.3 139.1,310.2C141.1,312.1 142.5,313.2 144.5,314.2C146.5,315.2 150.2,315.9 151.3,316.2M91.4,295.4C92.2,296.1 94.4,297.4 96.1,299.4C97.8,301.4 99.9,304.8 101.5,307.5C103.1,310.2 104.3,312.7 105.5,315.6C106.7,318.6 107.3,324.1 108.9,325.2C110.5,326.3 113.0,323.4 114.9,322.3C116.8,321.2 118.7,318.5 120.3,318.3C121.9,318.1 122.5,318.5 124.3,321.0C126.1,323.5 128.6,328.6 131.1,333.1C133.6,337.6 136.9,343.4 139.1,347.9C141.3,352.4 142.5,356.4 144.5,360.0C146.5,363.6 150.2,367.8 151.3,369.4M91.4,309.5C92.0,310.1 93.5,311.2 94.7,312.9C95.9,314.6 97.0,316.8 98.8,319.6C100.6,322.4 103.6,327.3 105.5,329.7C107.4,332.1 108.4,332.1 110.0,334.0C111.6,335.9 113.2,338.1 114.9,341.1C116.6,344.1 118.0,348.5 120.3,351.9C122.5,355.3 125.7,358.6 128.4,361.3C131.1,364.0 133.8,366.5 136.5,368.1C139.2,369.7 142.0,370.1 144.5,370.8C147.0,371.5 150.2,371.9 151.3,372.1M91.4,334.4C92.2,334.3 94.4,334.0 96.1,333.7C97.8,333.4 100.2,332.5 101.5,332.4C102.8,332.3 103.1,332.0 104.2,333.1C105.3,334.2 106.4,336.2 108.0,339.2C109.6,342.1 111.2,346.6 113.8,350.8C116.4,355.0 120.0,360.4 123.5,364.2C127.0,368.0 131.8,371.2 135.0,373.8C138.2,376.4 140.0,377.8 142.7,379.6C145.4,381.4 149.9,383.6 151.3,384.4M91.4,347.2C93.1,347.5 97.6,348.2 101.5,349.2C105.4,350.2 111.1,352.3 114.9,353.3C118.7,354.3 121.1,354.8 124.3,355.3C127.5,355.8 131.2,355.6 133.8,356.3C136.4,357.0 138.0,358.0 140.0,359.5C142.0,361.0 144.0,363.4 145.9,365.5C147.8,367.6 150.4,370.9 151.3,372.0M124.3,355.3C125.7,356.3 129.9,359.5 132.4,361.5C134.9,363.5 136.8,365.8 139.1,367.5C141.3,369.2 143.9,370.2 145.9,372.0C147.9,373.8 150.4,377.0 151.3,378.0M91.4,441.2C93.5,440.8 98.9,441.5 104.2,438.7C109.5,435.9 118.0,429.8 123.5,424.2C129.0,418.6 133.2,410.8 137.0,405.0C140.8,399.2 144.1,393.0 146.5,389.6C148.9,386.2 150.5,385.6 151.3,384.8M91.4,452.7C93.5,452.1 98.9,452.6 104.2,449.2C109.5,445.8 118.0,438.4 123.5,432.0C129.0,425.6 133.2,417.6 137.0,410.8C140.8,404.1 144.1,395.8 146.5,391.5C148.9,387.2 150.5,385.9 151.3,384.8M151.3,316.2C153.1,316.9 158.9,318.7 161.9,320.3C164.9,321.9 167.1,324.2 169.6,326.0C172.1,327.8 175.6,330.0 176.8,330.8M151.3,372.0C153.1,369.1 158.9,359.7 161.9,354.6C164.9,349.5 167.1,345.2 169.6,341.2C172.1,337.2 175.6,332.5 176.8,330.8M151.3,384.4C153.1,384.2 158.9,383.9 161.9,383.5C164.9,383.1 167.1,382.5 169.6,382.0C172.1,381.5 175.6,380.8 176.8,380.6M151.3,384.4C153.1,384.9 158.9,386.0 161.9,387.3C164.9,388.6 167.1,390.7 169.6,392.1C172.1,393.6 175.6,395.4 176.8,396.0M176.8,330.8C178.8,330.1 184.3,328.8 188.5,326.8C192.7,324.8 197.6,321.3 202.1,318.6C206.6,315.9 211.1,312.6 215.6,310.5C220.1,308.4 225.7,306.7 229.2,305.8C232.7,304.9 235.4,305.2 236.6,305.1M176.8,331.8C178.8,331.2 185.2,329.9 188.5,328.3C191.8,326.7 194.4,323.8 196.7,322.3C199.0,320.9 201.2,320.1 202.1,319.6M176.8,330.8C177.4,332.2 178.9,336.6 180.4,339.0C181.9,341.4 184.2,345.0 185.8,345.0C187.4,345.0 188.3,342.5 189.9,339.0C191.5,335.5 193.7,328.5 195.3,324.0C196.9,319.5 198.1,315.3 199.4,311.9C200.8,308.5 201.6,306.4 203.4,303.7C205.2,301.0 207.5,299.4 210.2,295.6C212.9,291.8 217.2,285.0 219.7,280.7C222.2,276.4 223.5,272.7 225.1,269.9C226.7,267.1 227.8,265.6 229.2,264.0C230.5,262.4 232.0,261.5 233.2,260.5C234.4,259.5 236.0,258.4 236.6,258.0M219.7,280.7C220.6,278.9 223.8,272.1 225.1,269.9C226.4,267.6 226.5,267.5 227.8,267.2C229.2,266.9 231.7,267.7 233.2,267.9C234.7,268.1 236.0,268.4 236.6,268.5M196.7,321.3C197.1,320.4 197.4,319.3 199.4,315.9C201.4,312.5 205.9,305.1 208.8,301.0C211.7,296.9 214.5,294.0 217.0,291.6C219.5,289.2 221.7,286.8 223.7,286.8C225.7,286.8 227.6,289.7 229.2,291.6C230.8,293.5 232.0,296.3 233.2,298.3C234.4,300.3 236.0,302.8 236.6,303.7M176.8,395.0C178.2,395.2 182.3,396.6 185.0,396.0C187.7,395.4 189.6,394.9 192.8,391.5C196.0,388.1 200.4,381.3 204.2,375.6C208.0,369.9 212.2,363.5 215.6,357.4C219.0,351.3 222.4,343.8 224.7,339.1C227.0,334.5 227.5,333.6 229.2,329.5C230.8,325.4 233.4,317.5 234.6,314.6C235.8,311.7 236.3,312.3 236.6,311.9M176.8,380.6C178.3,378.8 183.3,370.3 186.0,369.9C188.7,369.4 190.5,374.7 192.8,377.9C195.1,381.1 196.9,385.1 199.6,389.3C202.2,393.5 205.3,398.8 208.7,403.0C212.1,407.2 216.3,411.9 220.1,414.3C223.9,416.8 228.8,416.9 231.5,417.7C234.2,418.5 235.8,418.8 236.6,419.0M176.8,380.6C178.3,380.7 182.6,380.2 186.0,381.3C189.4,382.4 193.6,385.0 197.4,387.0C201.2,389.0 205.7,392.0 208.7,393.5C211.7,395.0 210.9,395.5 215.6,396.1C220.2,396.7 233.1,397.0 236.6,397.2M176.8,396.0C178.0,397.5 181.0,401.0 183.7,405.2C186.4,409.4 189.4,415.5 192.8,421.2C196.2,426.9 200.4,434.5 204.2,439.4C208.0,444.3 211.8,447.8 215.6,450.8C219.4,453.8 223.5,456.3 227.0,457.6C230.5,458.9 235.0,458.6 236.6,458.8M236.6,258.0C237.6,258.5 240.8,259.1 242.8,260.8C244.8,262.5 246.4,265.3 248.6,268.2C250.8,271.1 253.6,275.7 255.9,278.4C258.2,281.1 261.4,283.2 262.5,284.2M236.6,268.5C237.1,268.7 238.5,268.0 239.8,269.6C241.1,271.2 242.7,274.8 244.2,278.4C245.7,282.0 247.1,287.1 248.6,291.5C250.1,295.9 251.5,300.6 253.0,304.7C254.5,308.8 256.1,312.3 257.4,316.4C258.7,320.5 260.1,326.6 261.0,329.5C261.9,332.4 262.2,333.2 262.5,334.0M236.6,303.7C237.6,303.8 240.3,304.4 242.8,304.0C245.3,303.6 249.1,302.0 251.5,301.0C253.9,300.0 255.6,299.1 257.4,298.1C259.2,297.1 261.6,295.7 262.5,295.2M236.6,305.1C236.6,306.0 235.6,309.7 236.6,310.5C237.6,311.3 240.1,310.2 242.8,309.8C245.5,309.4 250.3,308.7 253.0,308.3C255.7,307.9 257.2,307.6 258.8,307.6C260.4,307.6 261.9,308.2 262.5,308.3M236.6,311.9C237.6,312.9 240.9,315.0 242.8,318.0C244.7,321.0 246.3,325.5 248.0,330.0C249.7,334.5 251.2,341.2 253.0,345.0C254.8,348.8 257.2,352.6 258.8,353.0C260.4,353.4 261.9,348.2 262.5,347.3M236.6,396.9C237.9,394.4 241.7,387.3 244.4,381.9C247.1,376.5 250.6,369.4 253.0,364.6C255.4,359.8 257.2,355.9 258.8,353.0C260.4,350.1 261.9,348.2 262.5,347.3M236.6,419.4C237.9,420.4 241.7,422.8 244.4,425.2C247.1,427.6 250.0,431.2 253.0,433.8C256.0,436.4 260.9,439.4 262.5,440.5M236.6,458.4C237.9,458.4 241.7,458.6 244.4,458.4C247.1,458.1 250.0,457.9 253.0,456.9C256.0,455.9 260.9,453.3 262.5,452.6M262.5,284.2C263.8,284.0 267.9,283.9 270.5,282.8C273.1,281.7 275.6,279.4 277.8,277.7C280.0,276.0 281.9,273.9 283.7,272.5C285.5,271.1 287.3,269.6 288.8,269.6C290.3,269.6 291.2,270.9 292.5,272.5C293.8,274.1 295.4,277.3 296.8,279.1C298.2,280.9 299.8,283.0 301.2,283.5C302.6,284.0 304.5,282.2 305.2,282.0M262.5,295.2C263.8,294.7 267.9,293.4 270.5,292.3C273.1,291.2 275.4,290.4 277.8,288.6C280.2,286.8 282.8,283.7 285.2,281.3C287.6,278.9 290.6,275.8 292.5,274.0C294.4,272.2 295.4,269.8 296.8,270.3C298.2,270.8 299.8,274.9 301.2,276.9C302.6,278.8 304.5,281.1 305.2,282.0M262.5,295.9C263.4,296.9 266.0,299.9 267.6,301.8C269.2,303.8 270.3,305.9 272.0,307.6C273.7,309.3 276.1,311.0 277.8,312.0C279.5,313.0 280.2,313.8 282.2,313.5C284.1,313.2 287.1,312.2 289.5,310.5C291.9,308.8 294.6,305.1 296.8,303.2C299.0,301.3 301.3,299.9 302.7,299.2C304.1,298.5 304.8,298.9 305.2,298.8M262.5,334.0C263.8,333.8 268.4,333.1 270.5,332.5C272.6,331.9 272.9,331.8 274.9,330.3C276.8,328.8 279.8,326.5 282.2,323.7C284.6,320.9 287.1,316.7 289.5,313.5C291.9,310.3 294.2,307.1 296.8,304.7C299.4,302.2 303.8,299.8 305.2,298.8M262.5,308.3C263.1,308.7 264.9,308.9 266.2,310.5C267.5,312.1 269.1,315.1 270.5,317.8C271.9,320.5 273.7,323.7 274.9,326.6C276.1,329.5 276.8,332.2 277.8,335.4C278.8,338.6 279.6,341.8 281.0,345.6C282.4,349.4 284.2,353.6 286.0,358.0C287.8,362.4 290.0,367.8 292.0,372.0C294.0,376.2 295.8,380.4 298.0,383.0C300.2,385.6 304.0,386.9 305.2,387.7M262.5,347.3C263.8,347.8 267.1,347.8 270.4,350.2C273.6,352.6 278.1,356.9 282.0,361.7C285.9,366.5 290.1,374.9 293.5,379.0C296.9,383.1 300.2,384.8 302.1,386.2C304.1,387.6 304.7,387.4 305.2,387.7M262.5,440.5C264.8,440.1 271.4,439.6 276.1,438.2C280.8,436.8 285.8,434.4 290.6,432.4C295.5,430.4 302.8,427.1 305.2,426.0M262.5,452.6C264.8,451.9 271.4,451.0 276.1,448.3C280.8,445.6 285.8,440.4 290.6,436.7C295.5,433.0 302.8,427.8 305.2,426.0M305.2,282.0C305.8,281.4 307.2,280.7 308.8,278.4C310.4,276.1 312.9,270.6 314.6,268.2C316.3,265.8 317.3,264.6 319.0,263.8C320.7,263.0 322.9,263.7 324.8,263.5C326.7,263.3 329.3,262.7 330.2,262.5M305.2,298.8C305.8,299.5 307.2,300.8 308.8,303.2C310.4,305.6 312.7,310.1 314.6,313.5C316.6,316.9 318.6,320.8 320.5,323.7C322.4,326.6 324.7,329.5 326.3,331.0C327.9,332.5 329.6,332.2 330.2,332.5M305.2,387.7C307.1,387.4 312.3,387.4 316.5,386.2C320.7,385.0 327.9,381.4 330.2,380.5M305.2,426.0L330.2,426.6M330.2,262.5C330.8,262.2 331.8,260.4 333.6,260.8C335.4,261.2 338.5,263.5 340.9,265.2C343.3,266.9 345.5,269.4 348.2,271.1C350.9,272.8 354.6,275.1 357.0,275.5C359.4,275.9 361.1,274.4 362.8,273.3C364.5,272.2 365.6,269.8 367.2,268.9C368.8,268.0 371.4,268.3 372.3,268.2M330.2,332.5C331.5,331.3 335.7,327.9 338.0,325.2C340.3,322.5 341.9,319.8 343.8,316.4C345.8,313.0 348.0,308.6 349.7,304.7C351.4,300.8 352.6,297.1 354.1,293.0C355.6,288.9 356.8,283.9 358.5,279.8C360.2,275.7 362.6,271.4 364.3,268.2C366.0,265.0 367.4,262.6 368.7,260.8C370.0,259.0 371.7,258.1 372.3,257.6M330.2,262.5C331.0,263.9 333.3,268.0 335.1,271.1C336.9,274.2 338.9,278.1 340.9,281.3C342.8,284.5 344.6,287.4 346.8,290.1C349.0,292.8 351.7,295.4 354.1,297.4C356.5,299.3 358.4,300.5 361.4,301.8C364.4,303.1 370.5,304.8 372.3,305.4M330.2,332.5C331.0,332.9 333.3,335.2 335.1,334.7C336.9,334.2 338.7,332.6 340.9,329.5C343.1,326.4 346.0,321.3 348.2,316.4C350.4,311.5 352.4,304.2 354.1,300.3C355.8,296.4 357.1,294.7 358.5,293.0C359.9,291.3 361.4,289.9 362.8,290.1C364.2,290.4 365.6,292.3 367.2,294.5C368.8,296.7 371.4,301.8 372.3,303.2M330.2,380.5C331.8,379.3 336.1,376.4 339.6,373.3C343.1,370.2 348.5,365.8 351.1,361.7C353.8,357.6 354.0,352.1 355.5,348.5C357.0,344.9 358.2,343.2 359.9,339.8C361.6,336.4 363.7,332.7 365.8,328.1C367.9,323.5 371.2,314.7 372.3,312.0M330.2,380.5C331.8,382.2 336.6,387.0 339.6,390.6C342.6,394.2 345.4,398.7 348.3,402.1C351.2,405.5 353.0,408.2 357.0,410.8C361.0,413.4 369.8,416.8 372.3,418.0M330.2,426.6C331.8,424.9 336.6,419.9 339.6,416.5C342.6,413.1 345.4,409.3 348.3,406.4C351.2,403.5 353.0,400.8 357.0,399.2C361.0,397.6 369.8,397.3 372.3,396.9M330.2,426.6C331.8,427.8 336.1,430.7 339.6,433.8C343.1,436.9 347.2,442.0 351.1,445.4C355.0,448.8 359.2,451.8 362.7,454.0C366.2,456.2 370.7,457.7 372.3,458.4" fill="none" stroke="#111" stroke-width="2.0" stroke-linejoin="round" stroke-linecap="round"/>
<rect x="91.3" y="257.4" width="281.0" height="225.3" fill="none" stroke="#111" stroke-width="2.2"/>
<line x1="87.3" y1="257.6" x2="91.3" y2="257.6" stroke="#111" stroke-width="1.8"/>
<text x="82.0" y="261.3" font-size="13" text-anchor="end" font-style="normal" font-weight="bold" fill="#000" >20</text>
<line x1="87.3" y1="302.6" x2="91.3" y2="302.6" stroke="#111" stroke-width="1.8"/>
<text x="82.0" y="306.3" font-size="13" text-anchor="end" font-style="normal" font-weight="bold" fill="#000" >10</text>
<line x1="87.3" y1="347.6" x2="91.3" y2="347.6" stroke="#111" stroke-width="1.8"/>
<text x="82.0" y="351.3" font-size="13" text-anchor="end" font-style="normal" font-weight="bold" fill="#000" >0</text>
<line x1="87.3" y1="392.6" x2="91.3" y2="392.6" stroke="#111" stroke-width="1.8"/>
<text x="82.0" y="396.3" font-size="13" text-anchor="end" font-style="normal" font-weight="bold" fill="#000" >-10</text>
<line x1="87.3" y1="437.6" x2="91.3" y2="437.6" stroke="#111" stroke-width="1.8"/>
<text x="82.0" y="441.3" font-size="13" text-anchor="end" font-style="normal" font-weight="bold" fill="#000" >-20</text>
<line x1="87.3" y1="482.6" x2="91.3" y2="482.6" stroke="#111" stroke-width="1.8"/>
<text x="82.0" y="486.3" font-size="13" text-anchor="end" font-style="normal" font-weight="bold" fill="#000" >-30</text>
<line x1="88.3" y1="280.1" x2="91.3" y2="280.1" stroke="#111" stroke-width="1.4"/>
<line x1="88.3" y1="325.1" x2="91.3" y2="325.1" stroke="#111" stroke-width="1.4"/>
<line x1="88.3" y1="370.1" x2="91.3" y2="370.1" stroke="#111" stroke-width="1.4"/>
<line x1="88.3" y1="415.1" x2="91.3" y2="415.1" stroke="#111" stroke-width="1.4"/>
<line x1="88.3" y1="460.1" x2="91.3" y2="460.1" stroke="#111" stroke-width="1.4"/>
<text x="91.3" y="495.6" font-size="13.2" text-anchor="middle" font-style="normal" font-weight="bold" fill="#000" >Z</text>
<text x="151.3" y="495.6" font-size="13.2" text-anchor="middle" font-style="normal" font-weight="bold" fill="#000" >A</text>
<text x="176.8" y="495.6" font-size="13.2" text-anchor="middle" font-style="normal" font-weight="bold" fill="#000" >M</text>
<text x="236.6" y="495.6" font-size="13.2" text-anchor="middle" font-style="normal" font-weight="bold" fill="#000" >G</text>
<text x="262.5" y="495.6" font-size="13.2" text-anchor="middle" font-style="normal" font-weight="bold" fill="#000" >Z</text>
<text x="305.2" y="495.6" font-size="13.2" text-anchor="middle" font-style="normal" font-weight="bold" fill="#000" >R</text>
<text x="330.2" y="495.6" font-size="13.2" text-anchor="middle" font-style="normal" font-weight="bold" fill="#000" >X</text>
<text x="372.3" y="495.6" font-size="13.2" text-anchor="middle" font-style="normal" font-weight="bold" fill="#000" >G</text>
<text transform="translate(61.5,366.9) rotate(-90)" x="0" y="0" font-size="17.2" text-anchor="middle" font-weight="bold">Energy (eV)</text>
<path d="M381.5,16.5 L381.5,19.3 L381.5,22.1 L381.5,24.9 L381.5,27.8 L381.5,30.6 L381.5,33.4 L381.5,36.2 L381.5,39.0 L381.7,41.7 L381.9,44.5 L382.1,47.2 L382.2,49.9 L382.4,52.6 L382.6,55.4 L382.8,58.1 L383.0,60.8 L383.1,63.5 L382.9,66.2 L382.7,69.0 L383.7,71.7 L385.6,74.8 L385.8,77.9 L388.4,80.9 L389.5,84.0 L391.4,87.1 L390.7,89.8 L392.2,92.5 L391.4,95.1 L392.8,97.8 L393.3,100.5 L390.3,103.7 L388.5,106.8 L387.5,110.0 L384.8,113.9 L382.5,117.8 L382.5,120.6 L382.6,123.3 L382.6,126.1 L382.6,128.9 L382.7,131.7 L382.7,134.4 L382.8,137.2 L382.8,140.0 L382.8,142.9 L382.9,145.7 L382.9,148.6 L382.9,151.4 L382.9,154.3 L383.0,157.1 L383.0,160.0 L388.0,162.3 L383.0,164.0 L383.0,166.6 L383.0,169.2 L382.9,171.8 L382.9,174.4 L382.9,177.0 L382.9,179.6 L382.9,182.2 L382.8,184.8 L382.8,187.4 L382.8,190.0 L382.8,192.8 L382.8,195.5 L382.8,198.3 L382.7,201.1 L382.7,203.8 L382.7,206.6 L382.7,209.4 L382.7,212.2 L382.7,214.9 L382.6,217.7 L382.6,220.5 L382.6,223.2 L382.6,226.0" fill="none" stroke="#e01ee6" stroke-width="1.7" stroke-linejoin="round" />
<path d="M381.0,39.0 L382.0,60.0 L384.0,80.0 L386.0,95.0 L384.0,105.0 L381.0,115.8 L381.8,135.0 L385.6,148.5 L391.4,158.0 L395.2,161.0 L385.6,162.9 L381.8,173.5 L387.5,187.0 L391.4,190.8 L386.0,200.0 L381.0,210.0" fill="none" stroke="#1f3fe0" stroke-width="1.9" stroke-linejoin="round" stroke-dasharray="6,4"/>
<path d="M381.0,39.0 L381.2,41.6 L381.5,44.2 L381.8,46.9 L382.0,49.5 L382.2,52.1 L382.5,54.8 L382.8,57.4 L383.0,60.0 L383.3,62.9 L384.1,65.7 L383.3,68.6 L383.7,71.4 L384.6,74.3 L385.4,77.1 L385.0,80.0 L385.3,83.0 L385.2,86.0 L386.4,89.0 L385.1,92.0 L386.0,95.0 L386.2,97.6 L384.9,100.2 L384.2,102.8 L383.8,105.4 L384.0,108.0 L383.0,111.2 L382.0,114.5 L381.0,117.7 L383.9,121.6 L387.5,125.4 L395.2,129.2 L408.7,130.8 L399.0,135.0 L400.2,138.2 L399.8,141.4 L401.0,144.6 L401.1,147.5 L401.2,150.4 L400.8,153.3 L401.0,156.2 L402.1,159.1 L403.0,162.0 L410.6,162.3 L391.4,164.8 L391.7,168.2 L393.3,171.5 L393.9,174.7 L395.4,178.0 L397.2,181.2 L397.0,184.1 L396.1,186.9 L395.4,189.8 L395.2,192.7 L394.1,195.9 L392.6,199.1 L391.4,202.3 L388.2,205.2 L385.6,208.0 L381.0,212.0" fill="none" stroke="#111" stroke-width="1.6" stroke-linejoin="round" />
<path d="M381.0,39.0 L387.5,42.8 L395.2,58.2 L403.0,69.8 L414.5,85.2 L408.7,90.9 L412.5,98.6 L424.0,100.5 L414.5,104.4 L404.8,108.2 L393.3,116.0 L391.4,121.5 L395.2,137.0 L404.8,148.5 L410.6,158.0 L420.2,162.0 L395.2,167.7 L399.0,181.2 L395.2,190.8 L389.5,198.5 L383.7,206.2 L381.0,212.0" fill="none" stroke="#e8291c" stroke-width="1.9" stroke-linejoin="round" stroke-dasharray="4.5,3.5"/>
<path d="M380.8,16.5 L380.8,19.3 L380.8,22.1 L380.8,24.9 L380.8,27.6 L380.8,30.4 L380.8,33.2 L380.8,36.0 L382.0,39.0 L387.5,42.8 L393.0,45.0 L399.0,48.6 L402.0,52.0 L405.8,55.3 L407.0,54.0 L409.3,57.0 L410.0,60.0 L414.5,65.0 L420.0,69.0 L423.0,68.0 L425.0,70.8 L426.0,73.6 L431.0,77.0 L433.0,76.0 L433.6,78.7 L435.6,81.3 L440.0,84.0 L448.1,87.1 L437.5,90.9 L434.0,94.0 L433.7,98.6 L445.0,99.5 L460.6,100.5 L443.3,104.4 L430.0,105.5 L414.5,108.2 L401.0,112.0 L397.0,116.0 L396.3,118.8 L395.2,121.5 L398.2,124.4 L401.0,127.3 L414.5,129.2 L433.7,130.2 L422.2,133.0 L416.4,137.0 L420.3,139.8 L422.2,142.7 L429.8,146.5 L433.7,150.4 L437.2,153.3 L439.5,156.2 L443.3,161.0 L472.0,162.3 L404.8,164.8 L405.2,168.2 L406.8,171.5 L411.9,174.4 L414.5,177.3 L422.2,181.2 L420.2,184.1 L420.2,187.0 L417.1,190.8 L414.5,194.6 L413.2,197.5 L410.6,200.4 L403.9,203.3 L399.0,206.2 L387.5,210.0 L380.8,212.0 L380.8,214.8 L380.8,217.6 L380.8,220.4 L380.8,223.2 L380.8,226.0" fill="none" stroke="#7a2ad6" stroke-width="1.7" stroke-linejoin="round" />
<rect x="380.8" y="15.8" width="88.80000000000001" height="211.2" fill="none" stroke="#111" stroke-width="2"/>
<line x1="380.8" y1="12.3" x2="380.8" y2="15.8" stroke="#111" stroke-width="1.3"/>
<line x1="391.9" y1="13.3" x2="391.9" y2="15.8" stroke="#111" stroke-width="1.3"/>
<line x1="403.0" y1="12.3" x2="403.0" y2="15.8" stroke="#111" stroke-width="1.3"/>
<line x1="414.1" y1="13.3" x2="414.1" y2="15.8" stroke="#111" stroke-width="1.3"/>
<line x1="425.2" y1="12.3" x2="425.2" y2="15.8" stroke="#111" stroke-width="1.3"/>
<line x1="436.3" y1="13.3" x2="436.3" y2="15.8" stroke="#111" stroke-width="1.3"/>
<line x1="447.4" y1="12.3" x2="447.4" y2="15.8" stroke="#111" stroke-width="1.3"/>
<line x1="458.5" y1="13.3" x2="458.5" y2="15.8" stroke="#111" stroke-width="1.3"/>
<line x1="469.6" y1="12.3" x2="469.6" y2="15.8" stroke="#111" stroke-width="1.3"/>
<text x="380.8" y="9.4" font-size="12" text-anchor="middle" font-style="normal" font-weight="bold" fill="#000" >0</text>
<text x="403.0" y="9.4" font-size="12" text-anchor="middle" font-style="normal" font-weight="bold" fill="#000" >0.2</text>
<text x="425.2" y="9.4" font-size="12" text-anchor="middle" font-style="normal" font-weight="bold" fill="#000" >0.4</text>
<text x="447.4" y="9.4" font-size="12" text-anchor="middle" font-style="normal" font-weight="bold" fill="#000" >0.6</text>
<text x="469.6" y="9.4" font-size="12" text-anchor="middle" font-style="normal" font-weight="bold" fill="#000" >0.8</text>
<text x="423.2" y="240.3" font-size="14" text-anchor="middle" font-style="normal" font-weight="bold" fill="#000" >DOS</text>
<line x1="414.6" y1="178.6" x2="441.2" y2="178.6" stroke="#7a2ad6" stroke-width="2.4" />
<text x="446.6" y="182.0" font-size="10" text-anchor="start" font-style="normal" font-weight="bold" fill="#000" >Total</text>
<line x1="414.6" y1="189.1" x2="441.2" y2="189.1" stroke="#1f3fe0" stroke-width="2.4" stroke-dasharray="10.4,12"/>
<text x="446.6" y="192.5" font-size="10" text-anchor="start" font-style="normal" font-weight="bold" fill="#000" >Be-<tspan font-style="italic">s</tspan></text>
<line x1="414.6" y1="199.6" x2="441.2" y2="199.6" stroke="#e8291c" stroke-width="2.4" stroke-dasharray="5.2,6.4"/>
<text x="446.6" y="203.0" font-size="10" text-anchor="start" font-style="normal" font-weight="bold" fill="#000" >Be-<tspan font-style="italic">p</tspan></text>
<line x1="414.6" y1="210.1" x2="441.2" y2="210.1" stroke="#111" stroke-width="2.4" />
<text x="446.6" y="213.5" font-size="10" text-anchor="start" font-style="normal" font-weight="bold" fill="#000" >H-<tspan font-style="italic">s</tspan></text>
<line x1="414.6" y1="220.6" x2="441.2" y2="220.6" stroke="#e01ee6" stroke-width="2.4" />
<text x="446.6" y="224.0" font-size="10" text-anchor="start" font-style="normal" font-weight="bold" fill="#000" >H-<tspan font-style="italic">p</tspan></text>
<path d="M381.5,257.4 L382.5,260.3 L383.5,263.3 L384.5,266.2 L384.4,269.1 L386.9,272.1 L387.5,275.0 L388.9,278.1 L389.2,281.2 L390.7,284.3 L390.2,287.4 L391.4,290.5 L392.4,293.2 L392.7,296.0 L393.2,298.7 L393.5,301.5 L394.9,304.2 L395.7,307.0 L395.2,309.7 L394.8,312.8 L394.8,315.8 L393.0,318.9 L394.2,321.9 L393.3,325.0 L392.4,328.2 L392.0,331.5 L389.5,334.7 L388.7,337.9 L385.8,341.1 L384.7,344.3 L384.2,347.4 L384.7,350.5 L383.0,353.5 L383.8,356.6 L383.7,359.7 L383.6,362.6 L383.6,365.5 L383.5,368.4 L383.5,371.3 L383.4,374.2 L383.4,377.1 L383.3,380.0 L383.3,382.7 L383.3,385.3 L383.2,388.0 L383.2,390.7 L383.2,393.3 L383.2,396.0 L383.2,398.7 L383.1,401.3 L383.1,404.0 L383.1,406.7 L383.1,409.3 L383.1,412.0 L383.0,414.7 L383.0,417.3 L383.0,420.0 L383.0,422.7 L383.0,425.4 L383.0,428.1 L383.0,430.8 L383.0,433.5 L382.9,436.2 L382.9,438.9 L382.9,441.6 L382.9,444.3 L382.9,447.0 L382.9,449.7 L382.9,452.3 L382.9,455.0 L382.9,457.7 L382.9,460.4 L382.9,463.1 L382.9,465.8 L382.8,468.5 L382.8,471.2 L382.8,473.9 L382.8,476.6 L382.8,479.3 L382.8,482.0" fill="none" stroke="#e01ee6" stroke-width="1.7" stroke-linejoin="round" />
<path d="M381.2,257.4 L383.0,266.0 L385.5,272.0 L384.0,278.0 L386.0,285.0 L384.0,292.0 L388.0,298.0 L386.0,305.0 L390.0,312.0 L386.0,318.0 L391.0,324.0 L387.0,330.0 L384.0,338.0 L383.0,345.0 L382.0,355.0 L384.0,368.0 L387.5,375.4 L391.4,381.2 L383.7,388.8 L382.7,408.1 L389.5,423.5 L393.3,431.2 L388.0,440.0 L383.0,450.0" fill="none" stroke="#1f3fe0" stroke-width="1.9" stroke-linejoin="round" stroke-dasharray="6,4"/>
<path d="M381.2,257.4 L382.3,260.5 L383.4,263.7 L383.9,266.9 L385.5,270.0 L385.0,272.9 L384.9,275.7 L386.1,278.6 L385.2,281.4 L385.5,284.3 L385.8,287.1 L386.0,290.0 L386.5,292.9 L385.2,295.7 L385.7,298.6 L385.8,301.4 L386.3,304.3 L386.1,307.1 L385.5,310.0 L386.0,312.9 L385.0,315.7 L385.2,318.6 L385.0,321.4 L385.8,324.3 L385.8,327.1 L385.0,330.0 L384.3,333.3 L384.3,336.7 L384.7,340.0 L384.6,343.0 L384.9,346.0 L385.7,349.0 L386.0,352.0 L387.9,354.7 L389.2,357.3 L391.4,360.0 L394.4,363.0 L399.0,366.0 L406.8,369.6 L401.0,374.4 L403.0,379.2 L410.6,384.0 L401.0,385.0 L393.3,388.8 L392.5,392.0 L391.8,395.3 L391.4,398.5 L391.5,401.4 L391.4,404.2 L394.1,407.4 L395.6,410.6 L397.2,413.8 L398.2,416.7 L399.3,419.6 L400.3,422.5 L401.0,425.4 L397.4,428.3 L395.2,431.2 L395.2,434.4 L394.4,437.6 L393.3,440.8 L393.4,443.7 L392.8,446.6 L391.7,449.4 L391.4,452.3 L387.4,455.2 L383.7,458.1 L381.2,459.0" fill="none" stroke="#111" stroke-width="1.6" stroke-linejoin="round" />
<path d="M385.6,265.5 L397.2,274.1 L410.6,281.8 L401.0,288.5 L404.8,297.2 L416.4,303.9 L412.5,309.7 L408.7,319.3 L412.5,327.0 L401.0,330.8 L397.2,338.5 L391.4,347.2 L388.0,355.0 L390.0,365.0 L395.0,375.0 L412.5,384.0 L391.4,390.8 L391.4,398.5 L397.2,408.1 L404.8,415.8 L410.6,425.4 L395.2,431.2 L389.5,440.8 L383.7,450.4 L381.2,456.2" fill="none" stroke="#e8291c" stroke-width="1.9" stroke-linejoin="round" stroke-dasharray="4.5,3.5"/>
<path d="M381.2,257.4 L383.3,260.1 L384.4,262.8 L387.5,265.5 L399.0,270.3 L410.6,272.2 L418.3,276.0 L426.0,280.8 L443.3,281.8 L424.0,283.7 L420.2,288.5 L420.2,292.4 L428.0,295.3 L433.7,300.0 L441.4,303.0 L449.0,304.9 L452.0,309.7 L447.2,313.5 L441.4,318.3 L435.6,323.2 L441.4,328.0 L429.8,329.9 L424.0,332.8 L414.5,336.6 L410.0,340.5 L404.8,344.3 L402.8,348.1 L403.0,352.0 L404.7,355.9 L408.7,359.7 L415.6,362.8 L424.0,365.8 L443.3,370.6 L429.8,373.5 L430.9,376.4 L433.7,379.2 L449.0,382.1 L463.5,384.0 L433.7,386.9 L404.8,388.8 L406.3,392.2 L408.7,395.6 L399.0,398.5 L399.8,402.4 L403.0,406.2 L407.5,409.0 L414.5,411.9 L418.3,414.8 L424.0,417.7 L427.8,421.5 L433.7,425.4 L414.5,427.3 L408.7,431.2 L409.3,434.0 L410.6,436.9 L404.8,440.8 L403.0,444.0 L404.6,447.2 L403.0,450.4 L395.2,454.2 L383.7,458.1 L381.2,459.0 L381.2,461.9 L381.2,464.8 L381.2,467.6 L381.2,470.5 L381.2,473.4 L381.2,476.2 L381.2,479.1 L381.2,482.0" fill="none" stroke="#7a2ad6" stroke-width="1.7" stroke-linejoin="round" />
<rect x="381.2" y="257.2" width="83.80000000000001" height="225.10000000000002" fill="none" stroke="#111" stroke-width="2"/>
<line x1="381.2" y1="253.7" x2="381.2" y2="257.2" stroke="#111" stroke-width="1.3"/>
<line x1="391.7" y1="254.7" x2="391.7" y2="257.2" stroke="#111" stroke-width="1.3"/>
<line x1="402.1" y1="253.7" x2="402.1" y2="257.2" stroke="#111" stroke-width="1.3"/>
<line x1="412.6" y1="254.7" x2="412.6" y2="257.2" stroke="#111" stroke-width="1.3"/>
<line x1="423.1" y1="253.7" x2="423.1" y2="257.2" stroke="#111" stroke-width="1.3"/>
<line x1="433.6" y1="254.7" x2="433.6" y2="257.2" stroke="#111" stroke-width="1.3"/>
<line x1="444.1" y1="253.7" x2="444.1" y2="257.2" stroke="#111" stroke-width="1.3"/>
<line x1="454.5" y1="254.7" x2="454.5" y2="257.2" stroke="#111" stroke-width="1.3"/>
<line x1="465.0" y1="253.7" x2="465.0" y2="257.2" stroke="#111" stroke-width="1.3"/>
<text x="381.2" y="252.4" font-size="12" text-anchor="middle" font-style="normal" font-weight="bold" fill="#000" >0</text>
<text x="402.1" y="252.4" font-size="12" text-anchor="middle" font-style="normal" font-weight="bold" fill="#000" >0.2</text>
<text x="423.1" y="252.4" font-size="12" text-anchor="middle" font-style="normal" font-weight="bold" fill="#000" >0.4</text>
<text x="444.1" y="252.4" font-size="12" text-anchor="middle" font-style="normal" font-weight="bold" fill="#000" >0.6</text>
<text x="465.0" y="252.4" font-size="12" text-anchor="middle" font-style="normal" font-weight="bold" fill="#000" >0.8</text>
<text x="426.3" y="495.6" font-size="13" text-anchor="middle" font-style="normal" font-weight="bold" fill="#000" >DOS</text>
<line x1="411.9" y1="433.3" x2="437.9" y2="433.3" stroke="#7a2ad6" stroke-width="2.4" />
<text x="443.1" y="436.7" font-size="10" text-anchor="start" font-style="normal" font-weight="bold" fill="#000" >Total</text>
<line x1="411.9" y1="443.8" x2="437.9" y2="443.8" stroke="#1f3fe0" stroke-width="2.4" stroke-dasharray="10.4,12"/>
<text x="443.1" y="447.2" font-size="10" text-anchor="start" font-style="normal" font-weight="bold" fill="#000" >Be-<tspan font-style="italic">s</tspan></text>
<line x1="411.9" y1="454.3" x2="437.9" y2="454.3" stroke="#e8291c" stroke-width="2.4" stroke-dasharray="5.2,6.4"/>
<text x="443.1" y="457.7" font-size="10" text-anchor="start" font-style="normal" font-weight="bold" fill="#000" >Be-<tspan font-style="italic">p</tspan></text>
<line x1="411.9" y1="464.8" x2="437.9" y2="464.8" stroke="#111" stroke-width="2.4" />
<text x="443.1" y="468.2" font-size="10" text-anchor="start" font-style="normal" font-weight="bold" fill="#000" >H-<tspan font-style="italic">s</tspan></text>
<line x1="411.9" y1="475.3" x2="437.9" y2="475.3" stroke="#e01ee6" stroke-width="2.4" />
<text x="443.1" y="478.7" font-size="10" text-anchor="start" font-style="normal" font-weight="bold" fill="#000" >H-<tspan font-style="italic">p</tspan></text>
<text x="44.6" y="21.8" font-size="16.5" text-anchor="start" font-style="normal" font-weight="bold" fill="#000" >(a)</text>
<text x="48.6" y="263.6" font-size="16.5" text-anchor="start" font-style="normal" font-weight="bold" fill="#000" >(b)</text>
</svg>
</body></html>
